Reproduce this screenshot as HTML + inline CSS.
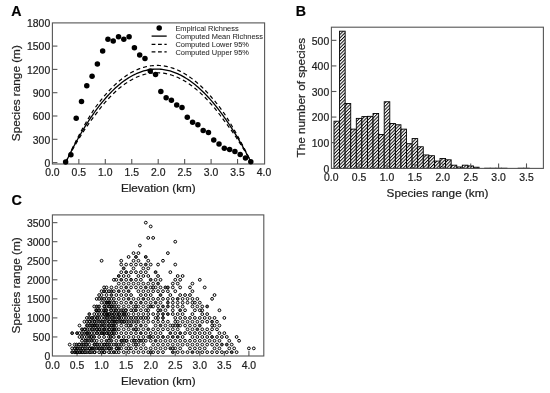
<!DOCTYPE html>
<html><head><meta charset="utf-8"><style>
html,body{margin:0;padding:0;background:#fff;width:550px;height:393px;overflow:hidden}
svg{display:block}
text{font-family:"Liberation Sans", Arial, Helvetica, sans-serif;stroke:#1e1e1e;stroke-width:0.22px}
</style></head><body>
<svg width="550" height="393" viewBox="0 0 550 393">
<rect width="550" height="393" fill="#fff"/>
<text x="11.2" y="15.6" font-size="14.2" font-weight="bold" fill="#000">A</text>
<text x="295.7" y="15.8" font-size="14.2" font-weight="bold" fill="#000">B</text>
<text x="11.6" y="205.4" font-size="14.4" font-weight="bold" fill="#000">C</text>
<rect x="52.4" y="22.9" width="212.20" height="141.10" fill="none" stroke="#555" stroke-width="1.1"/>
<text x="52.40" y="176.1" font-size="10.4" text-anchor="middle" fill="#1e1e1e">0.0</text>
<line x1="78.85" y1="164.0" x2="78.85" y2="159.0" stroke="#555" stroke-width="1.1"/>
<text x="78.85" y="176.1" font-size="10.4" text-anchor="middle" fill="#1e1e1e">0.5</text>
<line x1="105.30" y1="164.0" x2="105.30" y2="159.0" stroke="#555" stroke-width="1.1"/>
<text x="105.30" y="176.1" font-size="10.4" text-anchor="middle" fill="#1e1e1e">1.0</text>
<line x1="131.75" y1="164.0" x2="131.75" y2="159.0" stroke="#555" stroke-width="1.1"/>
<text x="131.75" y="176.1" font-size="10.4" text-anchor="middle" fill="#1e1e1e">1.5</text>
<line x1="158.20" y1="164.0" x2="158.20" y2="159.0" stroke="#555" stroke-width="1.1"/>
<text x="158.20" y="176.1" font-size="10.4" text-anchor="middle" fill="#1e1e1e">2.0</text>
<line x1="184.65" y1="164.0" x2="184.65" y2="159.0" stroke="#555" stroke-width="1.1"/>
<text x="184.65" y="176.1" font-size="10.4" text-anchor="middle" fill="#1e1e1e">2.5</text>
<line x1="211.10" y1="164.0" x2="211.10" y2="159.0" stroke="#555" stroke-width="1.1"/>
<text x="211.10" y="176.1" font-size="10.4" text-anchor="middle" fill="#1e1e1e">3.0</text>
<line x1="237.55" y1="164.0" x2="237.55" y2="159.0" stroke="#555" stroke-width="1.1"/>
<text x="237.55" y="176.1" font-size="10.4" text-anchor="middle" fill="#1e1e1e">3.5</text>
<text x="264.00" y="176.1" font-size="10.4" text-anchor="middle" fill="#1e1e1e">4.0</text>
<line x1="52.4" y1="162.60" x2="57.4" y2="162.60" stroke="#555" stroke-width="1.1"/>
<text x="50.2" y="167.00" font-size="10.4" text-anchor="end" fill="#1e1e1e">0</text>
<line x1="52.4" y1="139.30" x2="57.4" y2="139.30" stroke="#555" stroke-width="1.1"/>
<text x="50.2" y="143.70" font-size="10.4" text-anchor="end" fill="#1e1e1e">300</text>
<line x1="52.4" y1="116.00" x2="57.4" y2="116.00" stroke="#555" stroke-width="1.1"/>
<text x="50.2" y="120.40" font-size="10.4" text-anchor="end" fill="#1e1e1e">600</text>
<line x1="52.4" y1="92.70" x2="57.4" y2="92.70" stroke="#555" stroke-width="1.1"/>
<text x="50.2" y="97.10" font-size="10.4" text-anchor="end" fill="#1e1e1e">900</text>
<line x1="52.4" y1="69.40" x2="57.4" y2="69.40" stroke="#555" stroke-width="1.1"/>
<text x="50.2" y="73.80" font-size="10.4" text-anchor="end" fill="#1e1e1e">1200</text>
<line x1="52.4" y1="46.09" x2="57.4" y2="46.09" stroke="#555" stroke-width="1.1"/>
<text x="50.2" y="50.49" font-size="10.4" text-anchor="end" fill="#1e1e1e">1500</text>
<text x="50.2" y="27.19" font-size="10.4" text-anchor="end" fill="#1e1e1e">1800</text>
<text x="158.3" y="192.3" font-size="11.7" text-anchor="middle" fill="#1e1e1e">Elevation (km)</text>
<text transform="translate(20.4,93.2) rotate(-90)" font-size="11.75" text-anchor="middle" fill="#1e1e1e">Species range (m)</text>
<path d="M65.62,162.60 L66.95,159.87 L68.27,157.17 L69.59,154.52 L70.91,151.91 L72.24,149.34 L73.56,146.82 L74.88,144.33 L76.20,141.89 L77.53,139.48 L78.85,137.12 L80.17,134.80 L81.50,132.53 L82.82,130.29 L84.14,128.09 L85.46,125.94 L86.78,123.82 L88.11,121.75 L89.43,119.72 L90.75,117.73 L92.07,115.78 L93.40,113.87 L94.72,112.00 L96.04,110.17 L97.36,108.39 L98.69,106.64 L100.01,104.93 L101.33,103.27 L102.66,101.64 L103.98,100.06 L105.30,98.51 L106.62,97.01 L107.94,95.55 L109.27,94.12 L110.59,92.74 L111.91,91.39 L113.23,90.09 L114.56,88.83 L115.88,87.60 L117.20,86.42 L118.53,85.27 L119.85,84.17 L121.17,83.10 L122.49,82.08 L123.81,81.09 L125.14,80.14 L126.46,79.23 L127.78,78.36 L129.10,77.54 L130.43,76.75 L131.75,75.99 L133.07,75.28 L134.40,74.61 L135.72,73.98 L137.04,73.38 L138.36,72.82 L139.69,72.31 L141.01,71.83 L142.33,71.39 L143.65,70.99 L144.97,70.62 L146.30,70.30 L147.62,70.01 L148.94,69.77 L150.27,69.56 L151.59,69.39 L152.91,69.25 L154.23,69.16 L155.56,69.10 L156.88,69.09 L158.20,69.11 L159.52,69.16 L160.84,69.26 L162.17,69.39 L163.49,69.56 L164.81,69.77 L166.13,70.02 L167.46,70.30 L168.78,70.62 L170.10,70.98 L171.42,71.38 L172.75,71.81 L174.07,72.29 L175.39,72.79 L176.72,73.34 L178.04,73.92 L179.36,74.54 L180.68,75.20 L182.01,75.89 L183.33,76.62 L184.65,77.39 L185.97,78.20 L187.29,79.04 L188.62,79.91 L189.94,80.83 L191.26,81.78 L192.59,82.77 L193.91,83.79 L195.23,84.85 L196.55,85.95 L197.88,87.08 L199.20,88.25 L200.52,89.46 L201.84,90.70 L203.17,91.97 L204.49,93.29 L205.81,94.64 L207.13,96.02 L208.46,97.44 L209.78,98.90 L211.10,100.39 L212.42,101.92 L213.75,103.48 L215.07,105.08 L216.39,106.72 L217.71,108.39 L219.03,110.09 L220.36,111.84 L221.68,113.61 L223.00,115.42 L224.32,117.27 L225.65,119.15 L226.97,121.07 L228.29,123.02 L229.62,125.01 L230.94,127.03 L232.26,129.08 L233.58,131.17 L234.91,133.30 L236.23,135.46 L237.55,137.65 L238.87,139.88 L240.19,142.15 L241.52,144.44 L242.84,146.78 L244.16,149.14 L245.48,151.54 L246.81,153.98 L248.13,156.45 L249.45,158.95 L250.78,161.49" fill="none" stroke="#000" stroke-width="1.3"/>
<path d="M65.62,162.60 L66.95,159.70 L68.27,156.84 L69.59,154.02 L70.91,151.25 L72.24,148.51 L73.56,145.82 L74.88,143.17 L76.20,140.56 L77.53,137.99 L78.85,135.46 L80.17,132.98 L81.50,130.53 L82.82,128.13 L84.14,125.77 L85.46,123.45 L86.78,121.17 L88.11,118.93 L89.43,116.73 L90.75,114.58 L92.07,112.46 L93.40,110.39 L94.72,108.35 L96.04,106.52 L97.36,104.74 L98.69,102.99 L100.01,101.28 L101.33,99.62 L102.66,97.99 L103.98,96.41 L105.30,94.86 L106.62,93.36 L107.94,91.90 L109.27,90.47 L110.59,89.09 L111.91,87.74 L113.23,86.44 L114.56,85.18 L115.88,83.95 L117.20,82.77 L118.53,81.62 L119.85,80.52 L121.17,79.45 L122.49,78.42 L123.81,77.44 L125.14,76.49 L126.46,75.58 L127.78,74.71 L129.10,73.89 L130.43,73.10 L131.75,72.34 L133.07,71.63 L134.40,70.96 L135.72,70.33 L137.04,69.73 L138.36,69.17 L139.69,68.66 L141.01,68.18 L142.33,67.74 L143.65,67.34 L144.97,66.97 L146.30,66.65 L147.62,66.36 L148.94,66.12 L150.27,65.91 L151.59,65.74 L152.91,65.60 L154.23,65.51 L155.56,65.45 L156.88,65.44 L158.20,65.46 L159.52,65.51 L160.84,65.61 L162.17,65.74 L163.49,65.91 L164.81,66.12 L166.13,66.37 L167.46,66.65 L168.78,66.97 L170.10,67.33 L171.42,67.73 L172.75,68.16 L174.07,68.63 L175.39,69.14 L176.72,69.69 L178.04,70.27 L179.36,70.89 L180.68,71.55 L182.01,72.24 L183.33,72.97 L184.65,73.74 L185.97,74.54 L187.29,75.39 L188.62,76.26 L189.94,77.18 L191.26,78.13 L192.59,79.12 L193.91,80.14 L195.23,81.20 L196.55,82.30 L197.88,83.43 L199.20,84.60 L200.52,85.80 L201.84,87.05 L203.17,88.32 L204.49,89.64 L205.81,90.99 L207.13,92.37 L208.46,93.79 L209.78,95.25 L211.10,96.74 L212.42,98.27 L213.75,99.83 L215.07,101.43 L216.39,103.07 L217.71,104.74 L219.03,106.44 L220.36,108.18 L221.68,109.96 L223.00,111.77 L224.32,113.62 L225.65,115.68 L226.97,117.78 L228.29,119.92 L229.62,122.09 L230.94,124.29 L232.26,126.53 L233.58,128.80 L234.91,131.11 L236.23,133.45 L237.55,135.83 L238.87,138.24 L240.19,140.69 L241.52,143.17 L242.84,145.68 L244.16,148.23 L245.48,150.81 L246.81,153.43 L248.13,156.08 L249.45,158.77 L250.78,161.49" fill="none" stroke="#000" stroke-width="1.2" stroke-dasharray="4,3"/>
<path d="M65.62,162.60 L66.95,160.03 L68.27,157.51 L69.59,155.02 L70.91,152.58 L72.24,150.17 L73.56,147.81 L74.88,145.49 L76.20,143.21 L77.53,140.98 L78.85,138.78 L80.17,136.63 L81.50,134.52 L82.82,132.45 L84.14,130.42 L85.46,128.43 L86.78,126.48 L88.11,124.57 L89.43,122.71 L90.75,120.88 L92.07,119.10 L93.40,117.35 L94.72,115.65 L96.04,113.82 L97.36,112.04 L98.69,110.29 L100.01,108.59 L101.33,106.92 L102.66,105.29 L103.98,103.71 L105.30,102.17 L106.62,100.66 L107.94,99.20 L109.27,97.77 L110.59,96.39 L111.91,95.04 L113.23,93.74 L114.56,92.48 L115.88,91.25 L117.20,90.07 L118.53,88.92 L119.85,87.82 L121.17,86.75 L122.49,85.73 L123.81,84.74 L125.14,83.79 L126.46,82.88 L127.78,82.02 L129.10,81.19 L130.43,80.40 L131.75,79.65 L133.07,78.93 L134.40,78.26 L135.72,77.63 L137.04,77.03 L138.36,76.48 L139.69,75.96 L141.01,75.48 L142.33,75.04 L143.65,74.64 L144.97,74.28 L146.30,73.95 L147.62,73.67 L148.94,73.42 L150.27,73.21 L151.59,73.04 L152.91,72.91 L154.23,72.81 L155.56,72.75 L156.88,72.74 L158.20,72.76 L159.52,72.81 L160.84,72.91 L162.17,73.04 L163.49,73.21 L164.81,73.42 L166.13,73.67 L167.46,73.95 L168.78,74.27 L170.10,74.63 L171.42,75.03 L172.75,75.46 L174.07,75.94 L175.39,76.44 L176.72,76.99 L178.04,77.57 L179.36,78.19 L180.68,78.85 L182.01,79.54 L183.33,80.27 L184.65,81.04 L185.97,81.85 L187.29,82.69 L188.62,83.56 L189.94,84.48 L191.26,85.43 L192.59,86.42 L193.91,87.44 L195.23,88.50 L196.55,89.60 L197.88,90.73 L199.20,91.90 L200.52,93.11 L201.84,94.35 L203.17,95.62 L204.49,96.94 L205.81,98.29 L207.13,99.67 L208.46,101.09 L209.78,102.55 L211.10,104.04 L212.42,105.57 L213.75,107.14 L215.07,108.73 L216.39,110.37 L217.71,112.04 L219.03,113.75 L220.36,115.49 L221.68,117.26 L223.00,119.07 L224.32,120.92 L225.65,122.62 L226.97,124.35 L228.29,126.12 L229.62,127.93 L230.94,129.76 L232.26,131.64 L233.58,133.55 L234.91,135.49 L236.23,137.47 L237.55,139.48 L238.87,141.53 L240.19,143.61 L241.52,145.72 L242.84,147.87 L244.16,150.06 L245.48,152.27 L246.81,154.53 L248.13,156.81 L249.45,159.13 L250.78,161.49" fill="none" stroke="#000" stroke-width="1.2" stroke-dasharray="4,3"/>
<circle cx="65.62" cy="161.90" r="2.75" fill="#000"/>
<circle cx="70.91" cy="154.70" r="2.75" fill="#000"/>
<circle cx="76.20" cy="118.30" r="2.75" fill="#000"/>
<circle cx="81.50" cy="101.50" r="2.75" fill="#000"/>
<circle cx="86.78" cy="85.70" r="2.75" fill="#000"/>
<circle cx="92.07" cy="76.30" r="2.75" fill="#000"/>
<circle cx="97.36" cy="64.10" r="2.75" fill="#000"/>
<circle cx="102.66" cy="50.90" r="2.75" fill="#000"/>
<circle cx="107.94" cy="39.20" r="2.75" fill="#000"/>
<circle cx="113.23" cy="40.90" r="2.75" fill="#000"/>
<circle cx="118.53" cy="36.80" r="2.75" fill="#000"/>
<circle cx="123.81" cy="39.20" r="2.75" fill="#000"/>
<circle cx="129.10" cy="36.80" r="2.75" fill="#000"/>
<circle cx="134.40" cy="47.80" r="2.75" fill="#000"/>
<circle cx="139.69" cy="54.90" r="2.75" fill="#000"/>
<circle cx="144.97" cy="58.40" r="2.75" fill="#000"/>
<circle cx="150.27" cy="70.90" r="2.75" fill="#000"/>
<circle cx="155.56" cy="74.40" r="2.75" fill="#000"/>
<circle cx="160.84" cy="91.50" r="2.75" fill="#000"/>
<circle cx="166.13" cy="97.80" r="2.75" fill="#000"/>
<circle cx="171.42" cy="100.20" r="2.75" fill="#000"/>
<circle cx="176.72" cy="105.10" r="2.75" fill="#000"/>
<circle cx="182.01" cy="107.60" r="2.75" fill="#000"/>
<circle cx="187.29" cy="117.30" r="2.75" fill="#000"/>
<circle cx="192.59" cy="122.30" r="2.75" fill="#000"/>
<circle cx="197.88" cy="124.80" r="2.75" fill="#000"/>
<circle cx="203.17" cy="130.50" r="2.75" fill="#000"/>
<circle cx="208.46" cy="132.60" r="2.75" fill="#000"/>
<circle cx="213.75" cy="140.00" r="2.75" fill="#000"/>
<circle cx="219.03" cy="144.00" r="2.75" fill="#000"/>
<circle cx="224.32" cy="148.30" r="2.75" fill="#000"/>
<circle cx="229.62" cy="149.60" r="2.75" fill="#000"/>
<circle cx="234.91" cy="151.40" r="2.75" fill="#000"/>
<circle cx="240.19" cy="154.60" r="2.75" fill="#000"/>
<circle cx="245.48" cy="157.90" r="2.75" fill="#000"/>
<circle cx="250.78" cy="161.70" r="2.75" fill="#000"/>
<circle cx="159.2" cy="28.0" r="2.75" fill="#000"/>
<line x1="151.6" y1="36.1" x2="166.7" y2="36.1" stroke="#000" stroke-width="1.3"/>
<line x1="151.6" y1="44.3" x2="166.7" y2="44.3" stroke="#000" stroke-width="1.2" stroke-dasharray="3.8,2.6"/>
<line x1="151.6" y1="51.8" x2="166.7" y2="51.8" stroke="#000" stroke-width="1.2" stroke-dasharray="3.8,2.6"/>
<text x="175.4" y="30.6" font-size="7.45" fill="#2a2a2a" style="stroke-width:0.05px">Empirical Richness</text>
<text x="175.4" y="38.7" font-size="7.45" fill="#2a2a2a" style="stroke-width:0.05px">Computed Mean Richness</text>
<text x="175.4" y="47.1" font-size="7.45" fill="#2a2a2a" style="stroke-width:0.05px">Computed Lower 95%</text>
<text x="175.4" y="54.5" font-size="7.45" fill="#2a2a2a" style="stroke-width:0.05px">Computed Upper 95%</text>
<defs><pattern id="h" patternUnits="userSpaceOnUse" width="2.36" height="2.36" patternTransform="rotate(45)"><rect width="2.36" height="2.36" fill="#fff"/><rect width="0.95" height="2.36" fill="#000"/></pattern></defs>
<rect x="333.99" y="121.20" width="5.58" height="47.20" fill="url(#h)" stroke="#000" stroke-width="0.9"/>
<rect x="339.57" y="31.19" width="5.58" height="137.21" fill="url(#h)" stroke="#000" stroke-width="0.9"/>
<rect x="345.15" y="103.55" width="5.58" height="64.85" fill="url(#h)" stroke="#000" stroke-width="0.9"/>
<rect x="350.73" y="129.12" width="5.58" height="39.28" fill="url(#h)" stroke="#000" stroke-width="0.9"/>
<rect x="356.31" y="118.38" width="5.58" height="50.02" fill="url(#h)" stroke="#000" stroke-width="0.9"/>
<rect x="361.89" y="116.59" width="5.58" height="51.81" fill="url(#h)" stroke="#000" stroke-width="0.9"/>
<rect x="367.47" y="116.34" width="5.58" height="52.06" fill="url(#h)" stroke="#000" stroke-width="0.9"/>
<rect x="373.05" y="113.52" width="5.58" height="54.88" fill="url(#h)" stroke="#000" stroke-width="0.9"/>
<rect x="378.63" y="134.49" width="5.58" height="33.91" fill="url(#h)" stroke="#000" stroke-width="0.9"/>
<rect x="384.21" y="101.76" width="5.58" height="66.64" fill="url(#h)" stroke="#000" stroke-width="0.9"/>
<rect x="389.79" y="123.50" width="5.58" height="44.90" fill="url(#h)" stroke="#000" stroke-width="0.9"/>
<rect x="395.37" y="124.78" width="5.58" height="43.62" fill="url(#h)" stroke="#000" stroke-width="0.9"/>
<rect x="400.95" y="129.12" width="5.58" height="39.28" fill="url(#h)" stroke="#000" stroke-width="0.9"/>
<rect x="406.53" y="143.70" width="5.58" height="24.70" fill="url(#h)" stroke="#000" stroke-width="0.9"/>
<rect x="412.11" y="138.58" width="5.58" height="29.82" fill="url(#h)" stroke="#000" stroke-width="0.9"/>
<rect x="417.69" y="146.77" width="5.58" height="21.63" fill="url(#h)" stroke="#000" stroke-width="0.9"/>
<rect x="423.27" y="154.95" width="5.58" height="13.45" fill="url(#h)" stroke="#000" stroke-width="0.9"/>
<rect x="428.85" y="155.72" width="5.58" height="12.69" fill="url(#h)" stroke="#000" stroke-width="0.9"/>
<rect x="434.43" y="161.08" width="5.58" height="7.32" fill="url(#h)" stroke="#000" stroke-width="0.9"/>
<rect x="440.01" y="158.53" width="5.58" height="9.87" fill="url(#h)" stroke="#000" stroke-width="0.9"/>
<rect x="445.59" y="159.81" width="5.58" height="8.59" fill="url(#h)" stroke="#000" stroke-width="0.9"/>
<rect x="451.17" y="165.18" width="5.58" height="3.22" fill="url(#h)" stroke="#000" stroke-width="0.9"/>
<rect x="456.75" y="166.97" width="5.58" height="1.43" fill="url(#h)" stroke="#000" stroke-width="0.9"/>
<rect x="462.33" y="165.18" width="5.58" height="3.22" fill="url(#h)" stroke="#000" stroke-width="0.9"/>
<rect x="467.91" y="165.94" width="5.58" height="2.46" fill="url(#h)" stroke="#000" stroke-width="0.9"/>
<rect x="473.49" y="167.22" width="5.58" height="1.18" fill="url(#h)" stroke="#000" stroke-width="0.9"/>
<rect x="484.65" y="168.24" width="5.58" height="0.16" fill="url(#h)" stroke="#000" stroke-width="0.9"/>
<rect x="490.23" y="168.24" width="5.58" height="0.16" fill="url(#h)" stroke="#000" stroke-width="0.9"/>
<rect x="495.81" y="168.24" width="5.58" height="0.16" fill="url(#h)" stroke="#000" stroke-width="0.9"/>
<rect x="501.39" y="168.24" width="5.58" height="0.16" fill="url(#h)" stroke="#000" stroke-width="0.9"/>
<rect x="518.13" y="168.24" width="5.58" height="0.16" fill="url(#h)" stroke="#000" stroke-width="0.9"/>
<rect x="523.71" y="168.24" width="5.58" height="0.16" fill="url(#h)" stroke="#000" stroke-width="0.9"/>
<rect x="331.4" y="27.2" width="212.00" height="141.20" fill="none" stroke="#555" stroke-width="1.1"/>
<text x="331.20" y="181.0" font-size="10.4" text-anchor="middle" fill="#1e1e1e">0.0</text>
<line x1="359.10" y1="168.4" x2="359.10" y2="163.4" stroke="#555" stroke-width="1.1"/>
<text x="359.10" y="181.0" font-size="10.4" text-anchor="middle" fill="#1e1e1e">0.5</text>
<line x1="387.00" y1="168.4" x2="387.00" y2="163.4" stroke="#555" stroke-width="1.1"/>
<text x="387.00" y="181.0" font-size="10.4" text-anchor="middle" fill="#1e1e1e">1.0</text>
<line x1="414.90" y1="168.4" x2="414.90" y2="163.4" stroke="#555" stroke-width="1.1"/>
<text x="414.90" y="181.0" font-size="10.4" text-anchor="middle" fill="#1e1e1e">1.5</text>
<line x1="442.80" y1="168.4" x2="442.80" y2="163.4" stroke="#555" stroke-width="1.1"/>
<text x="442.80" y="181.0" font-size="10.4" text-anchor="middle" fill="#1e1e1e">2.0</text>
<line x1="470.70" y1="168.4" x2="470.70" y2="163.4" stroke="#555" stroke-width="1.1"/>
<text x="470.70" y="181.0" font-size="10.4" text-anchor="middle" fill="#1e1e1e">2.5</text>
<line x1="498.60" y1="168.4" x2="498.60" y2="163.4" stroke="#555" stroke-width="1.1"/>
<text x="498.60" y="181.0" font-size="10.4" text-anchor="middle" fill="#1e1e1e">3.0</text>
<line x1="526.50" y1="168.4" x2="526.50" y2="163.4" stroke="#555" stroke-width="1.1"/>
<text x="526.50" y="181.0" font-size="10.4" text-anchor="middle" fill="#1e1e1e">3.5</text>
<text x="329.2" y="172.50" font-size="10.4" text-anchor="end" fill="#1e1e1e">0</text>
<line x1="331.4" y1="142.63" x2="336.4" y2="142.63" stroke="#555" stroke-width="1.1"/>
<text x="329.2" y="146.93" font-size="10.4" text-anchor="end" fill="#1e1e1e">100</text>
<line x1="331.4" y1="117.06" x2="336.4" y2="117.06" stroke="#555" stroke-width="1.1"/>
<text x="329.2" y="121.36" font-size="10.4" text-anchor="end" fill="#1e1e1e">200</text>
<line x1="331.4" y1="91.49" x2="336.4" y2="91.49" stroke="#555" stroke-width="1.1"/>
<text x="329.2" y="95.79" font-size="10.4" text-anchor="end" fill="#1e1e1e">300</text>
<line x1="331.4" y1="65.92" x2="336.4" y2="65.92" stroke="#555" stroke-width="1.1"/>
<text x="329.2" y="70.22" font-size="10.4" text-anchor="end" fill="#1e1e1e">400</text>
<line x1="331.4" y1="40.35" x2="336.4" y2="40.35" stroke="#555" stroke-width="1.1"/>
<text x="329.2" y="44.65" font-size="10.4" text-anchor="end" fill="#1e1e1e">500</text>
<text x="437.5" y="196.6" font-size="11.75" text-anchor="middle" fill="#1e1e1e">Species range (km)</text>
<text transform="translate(305.1,97.7) rotate(-90)" font-size="11.75" text-anchor="middle" fill="#1e1e1e">The number of species</text>
<rect x="52.4" y="214.9" width="211.40" height="141.10" fill="none" stroke="#555" stroke-width="1.1"/>
<text x="52.50" y="368.6" font-size="10.4" text-anchor="middle" fill="#1e1e1e">0.0</text>
<line x1="77.05" y1="356.0" x2="77.05" y2="351.0" stroke="#555" stroke-width="1.1"/>
<text x="77.05" y="368.6" font-size="10.4" text-anchor="middle" fill="#1e1e1e">0.5</text>
<line x1="101.60" y1="356.0" x2="101.60" y2="351.0" stroke="#555" stroke-width="1.1"/>
<text x="101.60" y="368.6" font-size="10.4" text-anchor="middle" fill="#1e1e1e">1.0</text>
<line x1="126.15" y1="356.0" x2="126.15" y2="351.0" stroke="#555" stroke-width="1.1"/>
<text x="126.15" y="368.6" font-size="10.4" text-anchor="middle" fill="#1e1e1e">1.5</text>
<line x1="150.70" y1="356.0" x2="150.70" y2="351.0" stroke="#555" stroke-width="1.1"/>
<text x="150.70" y="368.6" font-size="10.4" text-anchor="middle" fill="#1e1e1e">2.0</text>
<line x1="175.25" y1="356.0" x2="175.25" y2="351.0" stroke="#555" stroke-width="1.1"/>
<text x="175.25" y="368.6" font-size="10.4" text-anchor="middle" fill="#1e1e1e">2.5</text>
<line x1="199.80" y1="356.0" x2="199.80" y2="351.0" stroke="#555" stroke-width="1.1"/>
<text x="199.80" y="368.6" font-size="10.4" text-anchor="middle" fill="#1e1e1e">3.0</text>
<line x1="224.35" y1="356.0" x2="224.35" y2="351.0" stroke="#555" stroke-width="1.1"/>
<text x="224.35" y="368.6" font-size="10.4" text-anchor="middle" fill="#1e1e1e">3.5</text>
<line x1="248.90" y1="356.0" x2="248.90" y2="351.0" stroke="#555" stroke-width="1.1"/>
<text x="248.90" y="368.6" font-size="10.4" text-anchor="middle" fill="#1e1e1e">4.0</text>
<text x="50.2" y="360.40" font-size="10.4" text-anchor="end" fill="#1e1e1e">0</text>
<line x1="52.4" y1="336.95" x2="57.4" y2="336.95" stroke="#555" stroke-width="1.1"/>
<text x="50.2" y="341.35" font-size="10.4" text-anchor="end" fill="#1e1e1e">500</text>
<line x1="52.4" y1="317.90" x2="57.4" y2="317.90" stroke="#555" stroke-width="1.1"/>
<text x="50.2" y="322.30" font-size="10.4" text-anchor="end" fill="#1e1e1e">1000</text>
<line x1="52.4" y1="298.85" x2="57.4" y2="298.85" stroke="#555" stroke-width="1.1"/>
<text x="50.2" y="303.25" font-size="10.4" text-anchor="end" fill="#1e1e1e">1500</text>
<line x1="52.4" y1="279.80" x2="57.4" y2="279.80" stroke="#555" stroke-width="1.1"/>
<text x="50.2" y="284.20" font-size="10.4" text-anchor="end" fill="#1e1e1e">2000</text>
<line x1="52.4" y1="260.75" x2="57.4" y2="260.75" stroke="#555" stroke-width="1.1"/>
<text x="50.2" y="265.15" font-size="10.4" text-anchor="end" fill="#1e1e1e">2500</text>
<line x1="52.4" y1="241.70" x2="57.4" y2="241.70" stroke="#555" stroke-width="1.1"/>
<text x="50.2" y="246.10" font-size="10.4" text-anchor="end" fill="#1e1e1e">3000</text>
<line x1="52.4" y1="222.65" x2="57.4" y2="222.65" stroke="#555" stroke-width="1.1"/>
<text x="50.2" y="227.05" font-size="10.4" text-anchor="end" fill="#1e1e1e">3500</text>
<text x="158.3" y="384.5" font-size="11.7" text-anchor="middle" fill="#1e1e1e">Elevation (km)</text>
<text transform="translate(20.4,285.4) rotate(-90)" font-size="11.75" text-anchor="middle" fill="#1e1e1e">Species range (m)</text>
<circle cx="145.79" cy="222.65" r="1.4" fill="none" stroke="#000" stroke-width="1.0"/>
<circle cx="150.70" cy="226.46" r="1.4" fill="none" stroke="#000" stroke-width="1.0"/>
<circle cx="148.25" cy="237.89" r="1.4" fill="none" stroke="#000" stroke-width="1.0"/>
<circle cx="153.16" cy="237.89" r="1.4" fill="none" stroke="#000" stroke-width="1.0"/>
<circle cx="175.25" cy="241.70" r="1.4" fill="none" stroke="#000" stroke-width="1.0"/>
<circle cx="139.90" cy="245.51" r="1.4" fill="none" stroke="#000" stroke-width="1.0"/>
<circle cx="133.51" cy="253.13" r="1.4" fill="none" stroke="#000" stroke-width="1.0"/>
<circle cx="138.43" cy="253.13" r="1.4" fill="none" stroke="#000" stroke-width="1.0"/>
<circle cx="167.88" cy="253.13" r="1.4" fill="none" stroke="#000" stroke-width="1.0"/>
<circle cx="128.61" cy="256.94" r="1.4" fill="none" stroke="#000" stroke-width="1.0"/>
<circle cx="135.97" cy="256.94" r="1.4" fill="#6a6a6a" stroke="#000" stroke-width="1.0"/>
<circle cx="145.79" cy="256.94" r="1.4" fill="#6a6a6a" stroke="#000" stroke-width="1.0"/>
<circle cx="101.60" cy="260.75" r="1.4" fill="none" stroke="#000" stroke-width="1.0"/>
<circle cx="121.24" cy="260.75" r="1.4" fill="none" stroke="#000" stroke-width="1.0"/>
<circle cx="133.51" cy="260.75" r="1.4" fill="none" stroke="#000" stroke-width="1.0"/>
<circle cx="138.43" cy="260.75" r="1.4" fill="none" stroke="#000" stroke-width="1.0"/>
<circle cx="148.25" cy="260.75" r="1.4" fill="none" stroke="#000" stroke-width="1.0"/>
<circle cx="162.98" cy="260.75" r="1.4" fill="none" stroke="#000" stroke-width="1.0"/>
<circle cx="121.24" cy="264.56" r="1.4" fill="none" stroke="#000" stroke-width="1.0"/>
<circle cx="126.15" cy="264.56" r="1.4" fill="none" stroke="#000" stroke-width="1.0"/>
<circle cx="131.06" cy="264.56" r="1.4" fill="none" stroke="#000" stroke-width="1.0"/>
<circle cx="135.97" cy="264.56" r="1.4" fill="none" stroke="#000" stroke-width="1.0"/>
<circle cx="140.88" cy="264.56" r="1.4" fill="none" stroke="#000" stroke-width="1.0"/>
<circle cx="145.79" cy="264.56" r="1.4" fill="#6a6a6a" stroke="#000" stroke-width="1.0"/>
<circle cx="150.70" cy="264.56" r="1.4" fill="none" stroke="#000" stroke-width="1.0"/>
<circle cx="158.06" cy="264.56" r="1.4" fill="none" stroke="#000" stroke-width="1.0"/>
<circle cx="175.25" cy="264.56" r="1.4" fill="none" stroke="#000" stroke-width="1.0"/>
<circle cx="123.69" cy="268.37" r="1.4" fill="#6a6a6a" stroke="#000" stroke-width="1.0"/>
<circle cx="133.51" cy="268.37" r="1.4" fill="none" stroke="#000" stroke-width="1.0"/>
<circle cx="143.34" cy="268.37" r="1.4" fill="none" stroke="#000" stroke-width="1.0"/>
<circle cx="148.25" cy="268.37" r="1.4" fill="none" stroke="#000" stroke-width="1.0"/>
<circle cx="121.24" cy="272.18" r="1.4" fill="none" stroke="#000" stroke-width="1.0"/>
<circle cx="126.15" cy="272.18" r="1.4" fill="#6a6a6a" stroke="#000" stroke-width="1.0"/>
<circle cx="131.06" cy="272.18" r="1.4" fill="none" stroke="#000" stroke-width="1.0"/>
<circle cx="135.97" cy="272.18" r="1.4" fill="none" stroke="#000" stroke-width="1.0"/>
<circle cx="140.88" cy="272.18" r="1.4" fill="none" stroke="#000" stroke-width="1.0"/>
<circle cx="145.79" cy="272.18" r="1.4" fill="none" stroke="#000" stroke-width="1.0"/>
<circle cx="155.61" cy="272.18" r="1.4" fill="#6a6a6a" stroke="#000" stroke-width="1.0"/>
<circle cx="170.34" cy="272.18" r="1.4" fill="none" stroke="#000" stroke-width="1.0"/>
<circle cx="118.79" cy="275.99" r="1.4" fill="#6a6a6a" stroke="#000" stroke-width="1.0"/>
<circle cx="123.69" cy="275.99" r="1.4" fill="none" stroke="#000" stroke-width="1.0"/>
<circle cx="128.61" cy="275.99" r="1.4" fill="none" stroke="#000" stroke-width="1.0"/>
<circle cx="138.43" cy="275.99" r="1.4" fill="none" stroke="#000" stroke-width="1.0"/>
<circle cx="143.34" cy="275.99" r="1.4" fill="none" stroke="#000" stroke-width="1.0"/>
<circle cx="148.25" cy="275.99" r="1.4" fill="none" stroke="#000" stroke-width="1.0"/>
<circle cx="158.06" cy="275.99" r="1.4" fill="none" stroke="#000" stroke-width="1.0"/>
<circle cx="177.70" cy="275.99" r="1.4" fill="none" stroke="#000" stroke-width="1.0"/>
<circle cx="182.62" cy="275.99" r="1.4" fill="none" stroke="#000" stroke-width="1.0"/>
<circle cx="113.88" cy="279.80" r="1.4" fill="none" stroke="#000" stroke-width="1.0"/>
<circle cx="116.33" cy="279.80" r="1.4" fill="none" stroke="#000" stroke-width="1.0"/>
<circle cx="121.24" cy="279.80" r="1.4" fill="#6a6a6a" stroke="#000" stroke-width="1.0"/>
<circle cx="126.15" cy="279.80" r="1.4" fill="none" stroke="#000" stroke-width="1.0"/>
<circle cx="131.06" cy="279.80" r="1.4" fill="#6a6a6a" stroke="#000" stroke-width="1.0"/>
<circle cx="135.97" cy="279.80" r="1.4" fill="none" stroke="#000" stroke-width="1.0"/>
<circle cx="140.88" cy="279.80" r="1.4" fill="none" stroke="#000" stroke-width="1.0"/>
<circle cx="150.70" cy="279.80" r="1.4" fill="#6a6a6a" stroke="#000" stroke-width="1.0"/>
<circle cx="155.61" cy="279.80" r="1.4" fill="none" stroke="#000" stroke-width="1.0"/>
<circle cx="160.52" cy="279.80" r="1.4" fill="none" stroke="#000" stroke-width="1.0"/>
<circle cx="175.25" cy="279.80" r="1.4" fill="none" stroke="#000" stroke-width="1.0"/>
<circle cx="180.16" cy="279.80" r="1.4" fill="none" stroke="#000" stroke-width="1.0"/>
<circle cx="199.80" cy="279.80" r="1.4" fill="none" stroke="#000" stroke-width="1.0"/>
<circle cx="118.79" cy="283.61" r="1.4" fill="none" stroke="#000" stroke-width="1.0"/>
<circle cx="123.69" cy="283.61" r="1.4" fill="none" stroke="#000" stroke-width="1.0"/>
<circle cx="128.61" cy="283.61" r="1.4" fill="none" stroke="#000" stroke-width="1.0"/>
<circle cx="133.51" cy="283.61" r="1.4" fill="none" stroke="#000" stroke-width="1.0"/>
<circle cx="138.43" cy="283.61" r="1.4" fill="none" stroke="#000" stroke-width="1.0"/>
<circle cx="143.34" cy="283.61" r="1.4" fill="none" stroke="#000" stroke-width="1.0"/>
<circle cx="148.25" cy="283.61" r="1.4" fill="none" stroke="#000" stroke-width="1.0"/>
<circle cx="153.16" cy="283.61" r="1.4" fill="none" stroke="#000" stroke-width="1.0"/>
<circle cx="158.06" cy="283.61" r="1.4" fill="#6a6a6a" stroke="#000" stroke-width="1.0"/>
<circle cx="172.80" cy="283.61" r="1.4" fill="none" stroke="#000" stroke-width="1.0"/>
<circle cx="177.70" cy="283.61" r="1.4" fill="none" stroke="#000" stroke-width="1.0"/>
<circle cx="192.44" cy="283.61" r="1.4" fill="none" stroke="#000" stroke-width="1.0"/>
<circle cx="155.61" cy="287.42" r="1.4" fill="none" stroke="#000" stroke-width="1.0"/>
<circle cx="160.52" cy="287.42" r="1.4" fill="none" stroke="#000" stroke-width="1.0"/>
<circle cx="165.43" cy="287.42" r="1.4" fill="#6a6a6a" stroke="#000" stroke-width="1.0"/>
<circle cx="167.88" cy="287.42" r="1.4" fill="#6a6a6a" stroke="#000" stroke-width="1.0"/>
<circle cx="172.80" cy="287.42" r="1.4" fill="none" stroke="#000" stroke-width="1.0"/>
<circle cx="180.16" cy="287.42" r="1.4" fill="none" stroke="#000" stroke-width="1.0"/>
<circle cx="189.98" cy="287.42" r="1.4" fill="none" stroke="#000" stroke-width="1.0"/>
<circle cx="204.71" cy="287.42" r="1.4" fill="none" stroke="#000" stroke-width="1.0"/>
<circle cx="158.06" cy="291.23" r="1.4" fill="none" stroke="#000" stroke-width="1.0"/>
<circle cx="162.98" cy="291.23" r="1.4" fill="none" stroke="#000" stroke-width="1.0"/>
<circle cx="167.88" cy="291.23" r="1.4" fill="none" stroke="#000" stroke-width="1.0"/>
<circle cx="175.25" cy="291.23" r="1.4" fill="none" stroke="#000" stroke-width="1.0"/>
<circle cx="192.44" cy="291.23" r="1.4" fill="none" stroke="#000" stroke-width="1.0"/>
<circle cx="160.52" cy="295.04" r="1.4" fill="#6a6a6a" stroke="#000" stroke-width="1.0"/>
<circle cx="170.34" cy="295.04" r="1.4" fill="none" stroke="#000" stroke-width="1.0"/>
<circle cx="180.16" cy="295.04" r="1.4" fill="none" stroke="#000" stroke-width="1.0"/>
<circle cx="185.07" cy="295.04" r="1.4" fill="none" stroke="#000" stroke-width="1.0"/>
<circle cx="189.98" cy="295.04" r="1.4" fill="none" stroke="#000" stroke-width="1.0"/>
<circle cx="214.53" cy="295.04" r="1.4" fill="none" stroke="#000" stroke-width="1.0"/>
<circle cx="158.06" cy="298.85" r="1.4" fill="none" stroke="#000" stroke-width="1.0"/>
<circle cx="162.98" cy="298.85" r="1.4" fill="none" stroke="#000" stroke-width="1.0"/>
<circle cx="167.88" cy="298.85" r="1.4" fill="none" stroke="#000" stroke-width="1.0"/>
<circle cx="172.80" cy="298.85" r="1.4" fill="none" stroke="#000" stroke-width="1.0"/>
<circle cx="177.70" cy="298.85" r="1.4" fill="#6a6a6a" stroke="#000" stroke-width="1.0"/>
<circle cx="182.62" cy="298.85" r="1.4" fill="none" stroke="#000" stroke-width="1.0"/>
<circle cx="187.53" cy="298.85" r="1.4" fill="none" stroke="#000" stroke-width="1.0"/>
<circle cx="192.44" cy="298.85" r="1.4" fill="none" stroke="#000" stroke-width="1.0"/>
<circle cx="197.34" cy="298.85" r="1.4" fill="none" stroke="#000" stroke-width="1.0"/>
<circle cx="212.08" cy="298.85" r="1.4" fill="none" stroke="#000" stroke-width="1.0"/>
<circle cx="155.61" cy="302.66" r="1.4" fill="#6a6a6a" stroke="#000" stroke-width="1.0"/>
<circle cx="160.52" cy="302.66" r="1.4" fill="none" stroke="#000" stroke-width="1.0"/>
<circle cx="167.88" cy="302.66" r="1.4" fill="#6a6a6a" stroke="#000" stroke-width="1.0"/>
<circle cx="172.80" cy="302.66" r="1.4" fill="none" stroke="#000" stroke-width="1.0"/>
<circle cx="177.70" cy="302.66" r="1.4" fill="none" stroke="#000" stroke-width="1.0"/>
<circle cx="182.62" cy="302.66" r="1.4" fill="none" stroke="#000" stroke-width="1.0"/>
<circle cx="187.53" cy="302.66" r="1.4" fill="none" stroke="#000" stroke-width="1.0"/>
<circle cx="192.44" cy="302.66" r="1.4" fill="none" stroke="#000" stroke-width="1.0"/>
<circle cx="194.89" cy="302.66" r="1.4" fill="none" stroke="#000" stroke-width="1.0"/>
<circle cx="199.80" cy="302.66" r="1.4" fill="none" stroke="#000" stroke-width="1.0"/>
<circle cx="158.06" cy="306.47" r="1.4" fill="none" stroke="#000" stroke-width="1.0"/>
<circle cx="162.98" cy="306.47" r="1.4" fill="#6a6a6a" stroke="#000" stroke-width="1.0"/>
<circle cx="167.88" cy="306.47" r="1.4" fill="#6a6a6a" stroke="#000" stroke-width="1.0"/>
<circle cx="172.80" cy="306.47" r="1.4" fill="none" stroke="#000" stroke-width="1.0"/>
<circle cx="177.70" cy="306.47" r="1.4" fill="none" stroke="#000" stroke-width="1.0"/>
<circle cx="182.62" cy="306.47" r="1.4" fill="none" stroke="#000" stroke-width="1.0"/>
<circle cx="192.44" cy="306.47" r="1.4" fill="none" stroke="#000" stroke-width="1.0"/>
<circle cx="197.34" cy="306.47" r="1.4" fill="none" stroke="#000" stroke-width="1.0"/>
<circle cx="202.25" cy="306.47" r="1.4" fill="none" stroke="#000" stroke-width="1.0"/>
<circle cx="207.16" cy="306.47" r="1.4" fill="#6a6a6a" stroke="#000" stroke-width="1.0"/>
<circle cx="158.06" cy="310.28" r="1.4" fill="none" stroke="#000" stroke-width="1.0"/>
<circle cx="160.52" cy="310.28" r="1.4" fill="#6a6a6a" stroke="#000" stroke-width="1.0"/>
<circle cx="165.43" cy="310.28" r="1.4" fill="none" stroke="#000" stroke-width="1.0"/>
<circle cx="172.80" cy="310.28" r="1.4" fill="none" stroke="#000" stroke-width="1.0"/>
<circle cx="180.16" cy="310.28" r="1.4" fill="#6a6a6a" stroke="#000" stroke-width="1.0"/>
<circle cx="185.07" cy="310.28" r="1.4" fill="none" stroke="#000" stroke-width="1.0"/>
<circle cx="194.89" cy="310.28" r="1.4" fill="none" stroke="#000" stroke-width="1.0"/>
<circle cx="199.80" cy="310.28" r="1.4" fill="none" stroke="#000" stroke-width="1.0"/>
<circle cx="202.25" cy="310.28" r="1.4" fill="none" stroke="#000" stroke-width="1.0"/>
<circle cx="219.44" cy="310.28" r="1.4" fill="none" stroke="#000" stroke-width="1.0"/>
<circle cx="158.06" cy="314.09" r="1.4" fill="none" stroke="#000" stroke-width="1.0"/>
<circle cx="162.98" cy="314.09" r="1.4" fill="#6a6a6a" stroke="#000" stroke-width="1.0"/>
<circle cx="167.88" cy="314.09" r="1.4" fill="#6a6a6a" stroke="#000" stroke-width="1.0"/>
<circle cx="172.80" cy="314.09" r="1.4" fill="none" stroke="#000" stroke-width="1.0"/>
<circle cx="177.70" cy="314.09" r="1.4" fill="none" stroke="#000" stroke-width="1.0"/>
<circle cx="182.62" cy="314.09" r="1.4" fill="none" stroke="#000" stroke-width="1.0"/>
<circle cx="192.44" cy="314.09" r="1.4" fill="none" stroke="#000" stroke-width="1.0"/>
<circle cx="202.25" cy="314.09" r="1.4" fill="none" stroke="#000" stroke-width="1.0"/>
<circle cx="207.16" cy="314.09" r="1.4" fill="none" stroke="#000" stroke-width="1.0"/>
<circle cx="155.61" cy="317.90" r="1.4" fill="none" stroke="#000" stroke-width="1.0"/>
<circle cx="158.06" cy="317.90" r="1.4" fill="none" stroke="#000" stroke-width="1.0"/>
<circle cx="162.98" cy="317.90" r="1.4" fill="#6a6a6a" stroke="#000" stroke-width="1.0"/>
<circle cx="175.25" cy="317.90" r="1.4" fill="none" stroke="#000" stroke-width="1.0"/>
<circle cx="180.16" cy="317.90" r="1.4" fill="none" stroke="#000" stroke-width="1.0"/>
<circle cx="185.07" cy="317.90" r="1.4" fill="none" stroke="#000" stroke-width="1.0"/>
<circle cx="189.98" cy="317.90" r="1.4" fill="none" stroke="#000" stroke-width="1.0"/>
<circle cx="194.89" cy="317.90" r="1.4" fill="none" stroke="#000" stroke-width="1.0"/>
<circle cx="199.80" cy="317.90" r="1.4" fill="none" stroke="#000" stroke-width="1.0"/>
<circle cx="204.71" cy="317.90" r="1.4" fill="none" stroke="#000" stroke-width="1.0"/>
<circle cx="209.62" cy="317.90" r="1.4" fill="none" stroke="#000" stroke-width="1.0"/>
<circle cx="214.53" cy="317.90" r="1.4" fill="none" stroke="#000" stroke-width="1.0"/>
<circle cx="224.35" cy="317.90" r="1.4" fill="none" stroke="#000" stroke-width="1.0"/>
<circle cx="72.14" cy="352.19" r="1.4" fill="#6a6a6a" stroke="#000" stroke-width="1.0"/>
<circle cx="74.59" cy="352.19" r="1.4" fill="#6a6a6a" stroke="#000" stroke-width="1.0"/>
<circle cx="77.05" cy="352.19" r="1.4" fill="none" stroke="#000" stroke-width="1.0"/>
<circle cx="79.50" cy="352.19" r="1.4" fill="none" stroke="#000" stroke-width="1.0"/>
<circle cx="81.96" cy="352.19" r="1.4" fill="none" stroke="#000" stroke-width="1.0"/>
<circle cx="84.42" cy="352.19" r="1.4" fill="#6a6a6a" stroke="#000" stroke-width="1.0"/>
<circle cx="86.87" cy="352.19" r="1.4" fill="none" stroke="#000" stroke-width="1.0"/>
<circle cx="89.33" cy="352.19" r="1.4" fill="#6a6a6a" stroke="#000" stroke-width="1.0"/>
<circle cx="91.78" cy="352.19" r="1.4" fill="none" stroke="#000" stroke-width="1.0"/>
<circle cx="94.24" cy="352.19" r="1.4" fill="none" stroke="#000" stroke-width="1.0"/>
<circle cx="99.15" cy="352.19" r="1.4" fill="none" stroke="#000" stroke-width="1.0"/>
<circle cx="101.60" cy="352.19" r="1.4" fill="#6a6a6a" stroke="#000" stroke-width="1.0"/>
<circle cx="104.06" cy="352.19" r="1.4" fill="none" stroke="#000" stroke-width="1.0"/>
<circle cx="108.97" cy="352.19" r="1.4" fill="none" stroke="#000" stroke-width="1.0"/>
<circle cx="111.42" cy="352.19" r="1.4" fill="none" stroke="#000" stroke-width="1.0"/>
<circle cx="113.88" cy="352.19" r="1.4" fill="#6a6a6a" stroke="#000" stroke-width="1.0"/>
<circle cx="116.33" cy="352.19" r="1.4" fill="none" stroke="#000" stroke-width="1.0"/>
<circle cx="118.79" cy="352.19" r="1.4" fill="none" stroke="#000" stroke-width="1.0"/>
<circle cx="123.70" cy="352.19" r="1.4" fill="none" stroke="#000" stroke-width="1.0"/>
<circle cx="128.61" cy="352.19" r="1.4" fill="none" stroke="#000" stroke-width="1.0"/>
<circle cx="133.52" cy="352.19" r="1.4" fill="none" stroke="#000" stroke-width="1.0"/>
<circle cx="138.43" cy="352.19" r="1.4" fill="none" stroke="#000" stroke-width="1.0"/>
<circle cx="143.34" cy="352.19" r="1.4" fill="none" stroke="#000" stroke-width="1.0"/>
<circle cx="148.25" cy="352.19" r="1.4" fill="none" stroke="#000" stroke-width="1.0"/>
<circle cx="150.70" cy="352.19" r="1.4" fill="none" stroke="#000" stroke-width="1.0"/>
<circle cx="153.16" cy="352.19" r="1.4" fill="none" stroke="#000" stroke-width="1.0"/>
<circle cx="158.06" cy="352.19" r="1.4" fill="none" stroke="#000" stroke-width="1.0"/>
<circle cx="162.98" cy="352.19" r="1.4" fill="none" stroke="#000" stroke-width="1.0"/>
<circle cx="172.80" cy="352.19" r="1.4" fill="#6a6a6a" stroke="#000" stroke-width="1.0"/>
<circle cx="177.71" cy="352.19" r="1.4" fill="none" stroke="#000" stroke-width="1.0"/>
<circle cx="182.62" cy="352.19" r="1.4" fill="none" stroke="#000" stroke-width="1.0"/>
<circle cx="187.53" cy="352.19" r="1.4" fill="none" stroke="#000" stroke-width="1.0"/>
<circle cx="192.44" cy="352.19" r="1.4" fill="#6a6a6a" stroke="#000" stroke-width="1.0"/>
<circle cx="197.34" cy="352.19" r="1.4" fill="none" stroke="#000" stroke-width="1.0"/>
<circle cx="202.26" cy="352.19" r="1.4" fill="none" stroke="#000" stroke-width="1.0"/>
<circle cx="207.17" cy="352.19" r="1.4" fill="none" stroke="#000" stroke-width="1.0"/>
<circle cx="212.08" cy="352.19" r="1.4" fill="none" stroke="#000" stroke-width="1.0"/>
<circle cx="216.99" cy="352.19" r="1.4" fill="none" stroke="#000" stroke-width="1.0"/>
<circle cx="221.90" cy="352.19" r="1.4" fill="none" stroke="#000" stroke-width="1.0"/>
<circle cx="226.81" cy="352.19" r="1.4" fill="none" stroke="#000" stroke-width="1.0"/>
<circle cx="231.72" cy="352.19" r="1.4" fill="#6a6a6a" stroke="#000" stroke-width="1.0"/>
<circle cx="236.62" cy="352.19" r="1.4" fill="none" stroke="#000" stroke-width="1.0"/>
<circle cx="72.14" cy="348.38" r="1.4" fill="none" stroke="#000" stroke-width="1.0"/>
<circle cx="74.59" cy="348.38" r="1.4" fill="none" stroke="#000" stroke-width="1.0"/>
<circle cx="77.05" cy="348.38" r="1.4" fill="#6a6a6a" stroke="#000" stroke-width="1.0"/>
<circle cx="81.96" cy="348.38" r="1.4" fill="none" stroke="#000" stroke-width="1.0"/>
<circle cx="86.87" cy="348.38" r="1.4" fill="none" stroke="#000" stroke-width="1.0"/>
<circle cx="89.33" cy="348.38" r="1.4" fill="none" stroke="#000" stroke-width="1.0"/>
<circle cx="91.78" cy="348.38" r="1.4" fill="#6a6a6a" stroke="#000" stroke-width="1.0"/>
<circle cx="94.24" cy="348.38" r="1.4" fill="#6a6a6a" stroke="#000" stroke-width="1.0"/>
<circle cx="96.69" cy="348.38" r="1.4" fill="#6a6a6a" stroke="#000" stroke-width="1.0"/>
<circle cx="99.15" cy="348.38" r="1.4" fill="#6a6a6a" stroke="#000" stroke-width="1.0"/>
<circle cx="101.60" cy="348.38" r="1.4" fill="none" stroke="#000" stroke-width="1.0"/>
<circle cx="104.06" cy="348.38" r="1.4" fill="none" stroke="#000" stroke-width="1.0"/>
<circle cx="106.51" cy="348.38" r="1.4" fill="#6a6a6a" stroke="#000" stroke-width="1.0"/>
<circle cx="108.97" cy="348.38" r="1.4" fill="none" stroke="#000" stroke-width="1.0"/>
<circle cx="111.42" cy="348.38" r="1.4" fill="#6a6a6a" stroke="#000" stroke-width="1.0"/>
<circle cx="116.33" cy="348.38" r="1.4" fill="none" stroke="#000" stroke-width="1.0"/>
<circle cx="118.79" cy="348.38" r="1.4" fill="#6a6a6a" stroke="#000" stroke-width="1.0"/>
<circle cx="121.24" cy="348.38" r="1.4" fill="none" stroke="#000" stroke-width="1.0"/>
<circle cx="126.15" cy="348.38" r="1.4" fill="none" stroke="#000" stroke-width="1.0"/>
<circle cx="128.61" cy="348.38" r="1.4" fill="none" stroke="#000" stroke-width="1.0"/>
<circle cx="131.06" cy="348.38" r="1.4" fill="none" stroke="#000" stroke-width="1.0"/>
<circle cx="135.97" cy="348.38" r="1.4" fill="none" stroke="#000" stroke-width="1.0"/>
<circle cx="140.88" cy="348.38" r="1.4" fill="none" stroke="#000" stroke-width="1.0"/>
<circle cx="145.79" cy="348.38" r="1.4" fill="none" stroke="#000" stroke-width="1.0"/>
<circle cx="150.70" cy="348.38" r="1.4" fill="none" stroke="#000" stroke-width="1.0"/>
<circle cx="155.61" cy="348.38" r="1.4" fill="none" stroke="#000" stroke-width="1.0"/>
<circle cx="160.52" cy="348.38" r="1.4" fill="none" stroke="#000" stroke-width="1.0"/>
<circle cx="165.43" cy="348.38" r="1.4" fill="none" stroke="#000" stroke-width="1.0"/>
<circle cx="170.34" cy="348.38" r="1.4" fill="#6a6a6a" stroke="#000" stroke-width="1.0"/>
<circle cx="172.80" cy="348.38" r="1.4" fill="none" stroke="#000" stroke-width="1.0"/>
<circle cx="175.25" cy="348.38" r="1.4" fill="none" stroke="#000" stroke-width="1.0"/>
<circle cx="180.16" cy="348.38" r="1.4" fill="none" stroke="#000" stroke-width="1.0"/>
<circle cx="189.98" cy="348.38" r="1.4" fill="none" stroke="#000" stroke-width="1.0"/>
<circle cx="194.89" cy="348.38" r="1.4" fill="none" stroke="#000" stroke-width="1.0"/>
<circle cx="199.80" cy="348.38" r="1.4" fill="none" stroke="#000" stroke-width="1.0"/>
<circle cx="204.71" cy="348.38" r="1.4" fill="none" stroke="#000" stroke-width="1.0"/>
<circle cx="214.53" cy="348.38" r="1.4" fill="none" stroke="#000" stroke-width="1.0"/>
<circle cx="219.44" cy="348.38" r="1.4" fill="none" stroke="#000" stroke-width="1.0"/>
<circle cx="229.26" cy="348.38" r="1.4" fill="none" stroke="#000" stroke-width="1.0"/>
<circle cx="234.17" cy="348.38" r="1.4" fill="none" stroke="#000" stroke-width="1.0"/>
<circle cx="69.69" cy="344.57" r="1.4" fill="none" stroke="#000" stroke-width="1.0"/>
<circle cx="74.59" cy="344.57" r="1.4" fill="none" stroke="#000" stroke-width="1.0"/>
<circle cx="79.50" cy="344.57" r="1.4" fill="none" stroke="#000" stroke-width="1.0"/>
<circle cx="81.96" cy="344.57" r="1.4" fill="#6a6a6a" stroke="#000" stroke-width="1.0"/>
<circle cx="84.42" cy="344.57" r="1.4" fill="none" stroke="#000" stroke-width="1.0"/>
<circle cx="86.87" cy="344.57" r="1.4" fill="none" stroke="#000" stroke-width="1.0"/>
<circle cx="89.33" cy="344.57" r="1.4" fill="none" stroke="#000" stroke-width="1.0"/>
<circle cx="94.24" cy="344.57" r="1.4" fill="#6a6a6a" stroke="#000" stroke-width="1.0"/>
<circle cx="96.69" cy="344.57" r="1.4" fill="#6a6a6a" stroke="#000" stroke-width="1.0"/>
<circle cx="99.15" cy="344.57" r="1.4" fill="none" stroke="#000" stroke-width="1.0"/>
<circle cx="101.60" cy="344.57" r="1.4" fill="none" stroke="#000" stroke-width="1.0"/>
<circle cx="104.06" cy="344.57" r="1.4" fill="none" stroke="#000" stroke-width="1.0"/>
<circle cx="106.51" cy="344.57" r="1.4" fill="none" stroke="#000" stroke-width="1.0"/>
<circle cx="108.97" cy="344.57" r="1.4" fill="none" stroke="#000" stroke-width="1.0"/>
<circle cx="111.42" cy="344.57" r="1.4" fill="none" stroke="#000" stroke-width="1.0"/>
<circle cx="113.88" cy="344.57" r="1.4" fill="none" stroke="#000" stroke-width="1.0"/>
<circle cx="116.33" cy="344.57" r="1.4" fill="#6a6a6a" stroke="#000" stroke-width="1.0"/>
<circle cx="118.79" cy="344.57" r="1.4" fill="none" stroke="#000" stroke-width="1.0"/>
<circle cx="121.24" cy="344.57" r="1.4" fill="none" stroke="#000" stroke-width="1.0"/>
<circle cx="123.70" cy="344.57" r="1.4" fill="none" stroke="#000" stroke-width="1.0"/>
<circle cx="128.61" cy="344.57" r="1.4" fill="none" stroke="#000" stroke-width="1.0"/>
<circle cx="133.52" cy="344.57" r="1.4" fill="none" stroke="#000" stroke-width="1.0"/>
<circle cx="135.97" cy="344.57" r="1.4" fill="none" stroke="#000" stroke-width="1.0"/>
<circle cx="138.43" cy="344.57" r="1.4" fill="none" stroke="#000" stroke-width="1.0"/>
<circle cx="143.34" cy="344.57" r="1.4" fill="none" stroke="#000" stroke-width="1.0"/>
<circle cx="153.16" cy="344.57" r="1.4" fill="none" stroke="#000" stroke-width="1.0"/>
<circle cx="158.06" cy="344.57" r="1.4" fill="none" stroke="#000" stroke-width="1.0"/>
<circle cx="162.98" cy="344.57" r="1.4" fill="none" stroke="#000" stroke-width="1.0"/>
<circle cx="167.88" cy="344.57" r="1.4" fill="none" stroke="#000" stroke-width="1.0"/>
<circle cx="172.80" cy="344.57" r="1.4" fill="none" stroke="#000" stroke-width="1.0"/>
<circle cx="177.71" cy="344.57" r="1.4" fill="none" stroke="#000" stroke-width="1.0"/>
<circle cx="182.62" cy="344.57" r="1.4" fill="none" stroke="#000" stroke-width="1.0"/>
<circle cx="187.53" cy="344.57" r="1.4" fill="none" stroke="#000" stroke-width="1.0"/>
<circle cx="192.44" cy="344.57" r="1.4" fill="none" stroke="#000" stroke-width="1.0"/>
<circle cx="197.34" cy="344.57" r="1.4" fill="none" stroke="#000" stroke-width="1.0"/>
<circle cx="202.26" cy="344.57" r="1.4" fill="none" stroke="#000" stroke-width="1.0"/>
<circle cx="207.17" cy="344.57" r="1.4" fill="none" stroke="#000" stroke-width="1.0"/>
<circle cx="212.08" cy="344.57" r="1.4" fill="none" stroke="#000" stroke-width="1.0"/>
<circle cx="216.99" cy="344.57" r="1.4" fill="none" stroke="#000" stroke-width="1.0"/>
<circle cx="221.90" cy="344.57" r="1.4" fill="#6a6a6a" stroke="#000" stroke-width="1.0"/>
<circle cx="226.81" cy="344.57" r="1.4" fill="#6a6a6a" stroke="#000" stroke-width="1.0"/>
<circle cx="231.72" cy="344.57" r="1.4" fill="none" stroke="#000" stroke-width="1.0"/>
<circle cx="81.96" cy="340.76" r="1.4" fill="none" stroke="#000" stroke-width="1.0"/>
<circle cx="86.87" cy="340.76" r="1.4" fill="#6a6a6a" stroke="#000" stroke-width="1.0"/>
<circle cx="89.33" cy="340.76" r="1.4" fill="#6a6a6a" stroke="#000" stroke-width="1.0"/>
<circle cx="91.78" cy="340.76" r="1.4" fill="#6a6a6a" stroke="#000" stroke-width="1.0"/>
<circle cx="94.24" cy="340.76" r="1.4" fill="none" stroke="#000" stroke-width="1.0"/>
<circle cx="96.69" cy="340.76" r="1.4" fill="none" stroke="#000" stroke-width="1.0"/>
<circle cx="101.60" cy="340.76" r="1.4" fill="none" stroke="#000" stroke-width="1.0"/>
<circle cx="106.51" cy="340.76" r="1.4" fill="#6a6a6a" stroke="#000" stroke-width="1.0"/>
<circle cx="108.97" cy="340.76" r="1.4" fill="none" stroke="#000" stroke-width="1.0"/>
<circle cx="111.42" cy="340.76" r="1.4" fill="#6a6a6a" stroke="#000" stroke-width="1.0"/>
<circle cx="116.33" cy="340.76" r="1.4" fill="none" stroke="#000" stroke-width="1.0"/>
<circle cx="121.24" cy="340.76" r="1.4" fill="#6a6a6a" stroke="#000" stroke-width="1.0"/>
<circle cx="126.15" cy="340.76" r="1.4" fill="none" stroke="#000" stroke-width="1.0"/>
<circle cx="135.97" cy="340.76" r="1.4" fill="none" stroke="#000" stroke-width="1.0"/>
<circle cx="140.88" cy="340.76" r="1.4" fill="none" stroke="#000" stroke-width="1.0"/>
<circle cx="143.34" cy="340.76" r="1.4" fill="none" stroke="#000" stroke-width="1.0"/>
<circle cx="145.79" cy="340.76" r="1.4" fill="none" stroke="#000" stroke-width="1.0"/>
<circle cx="150.70" cy="340.76" r="1.4" fill="none" stroke="#000" stroke-width="1.0"/>
<circle cx="155.61" cy="340.76" r="1.4" fill="#6a6a6a" stroke="#000" stroke-width="1.0"/>
<circle cx="160.52" cy="340.76" r="1.4" fill="none" stroke="#000" stroke-width="1.0"/>
<circle cx="165.43" cy="340.76" r="1.4" fill="none" stroke="#000" stroke-width="1.0"/>
<circle cx="170.34" cy="340.76" r="1.4" fill="none" stroke="#000" stroke-width="1.0"/>
<circle cx="175.25" cy="340.76" r="1.4" fill="none" stroke="#000" stroke-width="1.0"/>
<circle cx="180.16" cy="340.76" r="1.4" fill="none" stroke="#000" stroke-width="1.0"/>
<circle cx="185.07" cy="340.76" r="1.4" fill="none" stroke="#000" stroke-width="1.0"/>
<circle cx="189.98" cy="340.76" r="1.4" fill="none" stroke="#000" stroke-width="1.0"/>
<circle cx="194.89" cy="340.76" r="1.4" fill="none" stroke="#000" stroke-width="1.0"/>
<circle cx="199.80" cy="340.76" r="1.4" fill="none" stroke="#000" stroke-width="1.0"/>
<circle cx="204.71" cy="340.76" r="1.4" fill="none" stroke="#000" stroke-width="1.0"/>
<circle cx="209.62" cy="340.76" r="1.4" fill="none" stroke="#000" stroke-width="1.0"/>
<circle cx="214.53" cy="340.76" r="1.4" fill="none" stroke="#000" stroke-width="1.0"/>
<circle cx="219.44" cy="340.76" r="1.4" fill="none" stroke="#000" stroke-width="1.0"/>
<circle cx="229.26" cy="340.76" r="1.4" fill="none" stroke="#000" stroke-width="1.0"/>
<circle cx="79.50" cy="336.95" r="1.4" fill="none" stroke="#000" stroke-width="1.0"/>
<circle cx="81.96" cy="336.95" r="1.4" fill="none" stroke="#000" stroke-width="1.0"/>
<circle cx="84.42" cy="336.95" r="1.4" fill="none" stroke="#000" stroke-width="1.0"/>
<circle cx="86.87" cy="336.95" r="1.4" fill="none" stroke="#000" stroke-width="1.0"/>
<circle cx="89.33" cy="336.95" r="1.4" fill="#6a6a6a" stroke="#000" stroke-width="1.0"/>
<circle cx="91.78" cy="336.95" r="1.4" fill="none" stroke="#000" stroke-width="1.0"/>
<circle cx="94.24" cy="336.95" r="1.4" fill="#6a6a6a" stroke="#000" stroke-width="1.0"/>
<circle cx="99.15" cy="336.95" r="1.4" fill="none" stroke="#000" stroke-width="1.0"/>
<circle cx="104.06" cy="336.95" r="1.4" fill="none" stroke="#000" stroke-width="1.0"/>
<circle cx="108.97" cy="336.95" r="1.4" fill="none" stroke="#000" stroke-width="1.0"/>
<circle cx="113.88" cy="336.95" r="1.4" fill="none" stroke="#000" stroke-width="1.0"/>
<circle cx="118.79" cy="336.95" r="1.4" fill="#6a6a6a" stroke="#000" stroke-width="1.0"/>
<circle cx="123.70" cy="336.95" r="1.4" fill="none" stroke="#000" stroke-width="1.0"/>
<circle cx="128.61" cy="336.95" r="1.4" fill="none" stroke="#000" stroke-width="1.0"/>
<circle cx="133.52" cy="336.95" r="1.4" fill="none" stroke="#000" stroke-width="1.0"/>
<circle cx="138.43" cy="336.95" r="1.4" fill="none" stroke="#000" stroke-width="1.0"/>
<circle cx="143.34" cy="336.95" r="1.4" fill="none" stroke="#000" stroke-width="1.0"/>
<circle cx="148.25" cy="336.95" r="1.4" fill="none" stroke="#000" stroke-width="1.0"/>
<circle cx="153.16" cy="336.95" r="1.4" fill="none" stroke="#000" stroke-width="1.0"/>
<circle cx="158.06" cy="336.95" r="1.4" fill="none" stroke="#000" stroke-width="1.0"/>
<circle cx="162.98" cy="336.95" r="1.4" fill="#6a6a6a" stroke="#000" stroke-width="1.0"/>
<circle cx="167.88" cy="336.95" r="1.4" fill="none" stroke="#000" stroke-width="1.0"/>
<circle cx="172.80" cy="336.95" r="1.4" fill="#6a6a6a" stroke="#000" stroke-width="1.0"/>
<circle cx="177.71" cy="336.95" r="1.4" fill="#6a6a6a" stroke="#000" stroke-width="1.0"/>
<circle cx="182.62" cy="336.95" r="1.4" fill="none" stroke="#000" stroke-width="1.0"/>
<circle cx="192.44" cy="336.95" r="1.4" fill="none" stroke="#000" stroke-width="1.0"/>
<circle cx="197.34" cy="336.95" r="1.4" fill="none" stroke="#000" stroke-width="1.0"/>
<circle cx="202.26" cy="336.95" r="1.4" fill="none" stroke="#000" stroke-width="1.0"/>
<circle cx="207.17" cy="336.95" r="1.4" fill="none" stroke="#000" stroke-width="1.0"/>
<circle cx="212.08" cy="336.95" r="1.4" fill="#6a6a6a" stroke="#000" stroke-width="1.0"/>
<circle cx="216.99" cy="336.95" r="1.4" fill="none" stroke="#000" stroke-width="1.0"/>
<circle cx="221.90" cy="336.95" r="1.4" fill="none" stroke="#000" stroke-width="1.0"/>
<circle cx="226.81" cy="336.95" r="1.4" fill="none" stroke="#000" stroke-width="1.0"/>
<circle cx="72.14" cy="333.14" r="1.4" fill="#6a6a6a" stroke="#000" stroke-width="1.0"/>
<circle cx="77.05" cy="333.14" r="1.4" fill="#6a6a6a" stroke="#000" stroke-width="1.0"/>
<circle cx="79.50" cy="333.14" r="1.4" fill="none" stroke="#000" stroke-width="1.0"/>
<circle cx="81.96" cy="333.14" r="1.4" fill="none" stroke="#000" stroke-width="1.0"/>
<circle cx="84.42" cy="333.14" r="1.4" fill="#6a6a6a" stroke="#000" stroke-width="1.0"/>
<circle cx="86.87" cy="333.14" r="1.4" fill="#6a6a6a" stroke="#000" stroke-width="1.0"/>
<circle cx="89.33" cy="333.14" r="1.4" fill="#6a6a6a" stroke="#000" stroke-width="1.0"/>
<circle cx="91.78" cy="333.14" r="1.4" fill="none" stroke="#000" stroke-width="1.0"/>
<circle cx="94.24" cy="333.14" r="1.4" fill="none" stroke="#000" stroke-width="1.0"/>
<circle cx="96.69" cy="333.14" r="1.4" fill="none" stroke="#000" stroke-width="1.0"/>
<circle cx="101.60" cy="333.14" r="1.4" fill="none" stroke="#000" stroke-width="1.0"/>
<circle cx="104.06" cy="333.14" r="1.4" fill="#6a6a6a" stroke="#000" stroke-width="1.0"/>
<circle cx="106.51" cy="333.14" r="1.4" fill="none" stroke="#000" stroke-width="1.0"/>
<circle cx="108.97" cy="333.14" r="1.4" fill="none" stroke="#000" stroke-width="1.0"/>
<circle cx="111.42" cy="333.14" r="1.4" fill="none" stroke="#000" stroke-width="1.0"/>
<circle cx="113.88" cy="333.14" r="1.4" fill="none" stroke="#000" stroke-width="1.0"/>
<circle cx="116.33" cy="333.14" r="1.4" fill="none" stroke="#000" stroke-width="1.0"/>
<circle cx="121.24" cy="333.14" r="1.4" fill="none" stroke="#000" stroke-width="1.0"/>
<circle cx="126.15" cy="333.14" r="1.4" fill="none" stroke="#000" stroke-width="1.0"/>
<circle cx="131.06" cy="333.14" r="1.4" fill="none" stroke="#000" stroke-width="1.0"/>
<circle cx="135.97" cy="333.14" r="1.4" fill="none" stroke="#000" stroke-width="1.0"/>
<circle cx="140.88" cy="333.14" r="1.4" fill="#6a6a6a" stroke="#000" stroke-width="1.0"/>
<circle cx="145.79" cy="333.14" r="1.4" fill="none" stroke="#000" stroke-width="1.0"/>
<circle cx="150.70" cy="333.14" r="1.4" fill="none" stroke="#000" stroke-width="1.0"/>
<circle cx="155.61" cy="333.14" r="1.4" fill="none" stroke="#000" stroke-width="1.0"/>
<circle cx="160.52" cy="333.14" r="1.4" fill="none" stroke="#000" stroke-width="1.0"/>
<circle cx="170.34" cy="333.14" r="1.4" fill="#6a6a6a" stroke="#000" stroke-width="1.0"/>
<circle cx="175.25" cy="333.14" r="1.4" fill="none" stroke="#000" stroke-width="1.0"/>
<circle cx="180.16" cy="333.14" r="1.4" fill="#6a6a6a" stroke="#000" stroke-width="1.0"/>
<circle cx="185.07" cy="333.14" r="1.4" fill="none" stroke="#000" stroke-width="1.0"/>
<circle cx="189.98" cy="333.14" r="1.4" fill="none" stroke="#000" stroke-width="1.0"/>
<circle cx="194.89" cy="333.14" r="1.4" fill="none" stroke="#000" stroke-width="1.0"/>
<circle cx="199.80" cy="333.14" r="1.4" fill="none" stroke="#000" stroke-width="1.0"/>
<circle cx="204.71" cy="333.14" r="1.4" fill="none" stroke="#000" stroke-width="1.0"/>
<circle cx="209.62" cy="333.14" r="1.4" fill="none" stroke="#000" stroke-width="1.0"/>
<circle cx="219.44" cy="333.14" r="1.4" fill="none" stroke="#000" stroke-width="1.0"/>
<circle cx="224.35" cy="333.14" r="1.4" fill="none" stroke="#000" stroke-width="1.0"/>
<circle cx="81.96" cy="329.33" r="1.4" fill="#6a6a6a" stroke="#000" stroke-width="1.0"/>
<circle cx="84.42" cy="329.33" r="1.4" fill="none" stroke="#000" stroke-width="1.0"/>
<circle cx="89.33" cy="329.33" r="1.4" fill="none" stroke="#000" stroke-width="1.0"/>
<circle cx="91.78" cy="329.33" r="1.4" fill="none" stroke="#000" stroke-width="1.0"/>
<circle cx="94.24" cy="329.33" r="1.4" fill="#6a6a6a" stroke="#000" stroke-width="1.0"/>
<circle cx="96.69" cy="329.33" r="1.4" fill="none" stroke="#000" stroke-width="1.0"/>
<circle cx="99.15" cy="329.33" r="1.4" fill="none" stroke="#000" stroke-width="1.0"/>
<circle cx="101.60" cy="329.33" r="1.4" fill="none" stroke="#000" stroke-width="1.0"/>
<circle cx="104.06" cy="329.33" r="1.4" fill="#6a6a6a" stroke="#000" stroke-width="1.0"/>
<circle cx="106.51" cy="329.33" r="1.4" fill="none" stroke="#000" stroke-width="1.0"/>
<circle cx="108.97" cy="329.33" r="1.4" fill="none" stroke="#000" stroke-width="1.0"/>
<circle cx="113.88" cy="329.33" r="1.4" fill="#6a6a6a" stroke="#000" stroke-width="1.0"/>
<circle cx="116.33" cy="329.33" r="1.4" fill="none" stroke="#000" stroke-width="1.0"/>
<circle cx="118.79" cy="329.33" r="1.4" fill="none" stroke="#000" stroke-width="1.0"/>
<circle cx="123.70" cy="329.33" r="1.4" fill="none" stroke="#000" stroke-width="1.0"/>
<circle cx="128.61" cy="329.33" r="1.4" fill="none" stroke="#000" stroke-width="1.0"/>
<circle cx="133.52" cy="329.33" r="1.4" fill="#6a6a6a" stroke="#000" stroke-width="1.0"/>
<circle cx="135.97" cy="329.33" r="1.4" fill="none" stroke="#000" stroke-width="1.0"/>
<circle cx="138.43" cy="329.33" r="1.4" fill="none" stroke="#000" stroke-width="1.0"/>
<circle cx="143.34" cy="329.33" r="1.4" fill="none" stroke="#000" stroke-width="1.0"/>
<circle cx="148.25" cy="329.33" r="1.4" fill="#6a6a6a" stroke="#000" stroke-width="1.0"/>
<circle cx="153.16" cy="329.33" r="1.4" fill="none" stroke="#000" stroke-width="1.0"/>
<circle cx="158.06" cy="329.33" r="1.4" fill="none" stroke="#000" stroke-width="1.0"/>
<circle cx="162.98" cy="329.33" r="1.4" fill="none" stroke="#000" stroke-width="1.0"/>
<circle cx="167.88" cy="329.33" r="1.4" fill="none" stroke="#000" stroke-width="1.0"/>
<circle cx="172.80" cy="329.33" r="1.4" fill="none" stroke="#000" stroke-width="1.0"/>
<circle cx="177.71" cy="329.33" r="1.4" fill="none" stroke="#000" stroke-width="1.0"/>
<circle cx="187.53" cy="329.33" r="1.4" fill="none" stroke="#000" stroke-width="1.0"/>
<circle cx="192.44" cy="329.33" r="1.4" fill="none" stroke="#000" stroke-width="1.0"/>
<circle cx="197.34" cy="329.33" r="1.4" fill="#6a6a6a" stroke="#000" stroke-width="1.0"/>
<circle cx="202.26" cy="329.33" r="1.4" fill="none" stroke="#000" stroke-width="1.0"/>
<circle cx="207.17" cy="329.33" r="1.4" fill="none" stroke="#000" stroke-width="1.0"/>
<circle cx="212.08" cy="329.33" r="1.4" fill="none" stroke="#000" stroke-width="1.0"/>
<circle cx="216.99" cy="329.33" r="1.4" fill="none" stroke="#000" stroke-width="1.0"/>
<circle cx="86.87" cy="325.52" r="1.4" fill="#6a6a6a" stroke="#000" stroke-width="1.0"/>
<circle cx="91.78" cy="325.52" r="1.4" fill="none" stroke="#000" stroke-width="1.0"/>
<circle cx="94.24" cy="325.52" r="1.4" fill="#6a6a6a" stroke="#000" stroke-width="1.0"/>
<circle cx="96.69" cy="325.52" r="1.4" fill="#6a6a6a" stroke="#000" stroke-width="1.0"/>
<circle cx="101.60" cy="325.52" r="1.4" fill="#6a6a6a" stroke="#000" stroke-width="1.0"/>
<circle cx="104.06" cy="325.52" r="1.4" fill="none" stroke="#000" stroke-width="1.0"/>
<circle cx="106.51" cy="325.52" r="1.4" fill="none" stroke="#000" stroke-width="1.0"/>
<circle cx="108.97" cy="325.52" r="1.4" fill="none" stroke="#000" stroke-width="1.0"/>
<circle cx="111.42" cy="325.52" r="1.4" fill="none" stroke="#000" stroke-width="1.0"/>
<circle cx="113.88" cy="325.52" r="1.4" fill="#6a6a6a" stroke="#000" stroke-width="1.0"/>
<circle cx="116.33" cy="325.52" r="1.4" fill="none" stroke="#000" stroke-width="1.0"/>
<circle cx="121.24" cy="325.52" r="1.4" fill="none" stroke="#000" stroke-width="1.0"/>
<circle cx="126.15" cy="325.52" r="1.4" fill="none" stroke="#000" stroke-width="1.0"/>
<circle cx="128.61" cy="325.52" r="1.4" fill="none" stroke="#000" stroke-width="1.0"/>
<circle cx="131.06" cy="325.52" r="1.4" fill="#6a6a6a" stroke="#000" stroke-width="1.0"/>
<circle cx="135.97" cy="325.52" r="1.4" fill="none" stroke="#000" stroke-width="1.0"/>
<circle cx="140.88" cy="325.52" r="1.4" fill="#6a6a6a" stroke="#000" stroke-width="1.0"/>
<circle cx="145.79" cy="325.52" r="1.4" fill="none" stroke="#000" stroke-width="1.0"/>
<circle cx="155.61" cy="325.52" r="1.4" fill="none" stroke="#000" stroke-width="1.0"/>
<circle cx="160.52" cy="325.52" r="1.4" fill="#6a6a6a" stroke="#000" stroke-width="1.0"/>
<circle cx="165.43" cy="325.52" r="1.4" fill="none" stroke="#000" stroke-width="1.0"/>
<circle cx="170.34" cy="325.52" r="1.4" fill="none" stroke="#000" stroke-width="1.0"/>
<circle cx="172.80" cy="325.52" r="1.4" fill="none" stroke="#000" stroke-width="1.0"/>
<circle cx="175.25" cy="325.52" r="1.4" fill="none" stroke="#000" stroke-width="1.0"/>
<circle cx="177.71" cy="325.52" r="1.4" fill="#6a6a6a" stroke="#000" stroke-width="1.0"/>
<circle cx="180.16" cy="325.52" r="1.4" fill="none" stroke="#000" stroke-width="1.0"/>
<circle cx="185.07" cy="325.52" r="1.4" fill="none" stroke="#000" stroke-width="1.0"/>
<circle cx="189.98" cy="325.52" r="1.4" fill="none" stroke="#000" stroke-width="1.0"/>
<circle cx="194.89" cy="325.52" r="1.4" fill="none" stroke="#000" stroke-width="1.0"/>
<circle cx="199.80" cy="325.52" r="1.4" fill="#6a6a6a" stroke="#000" stroke-width="1.0"/>
<circle cx="212.08" cy="325.52" r="1.4" fill="none" stroke="#000" stroke-width="1.0"/>
<circle cx="214.53" cy="325.52" r="1.4" fill="none" stroke="#000" stroke-width="1.0"/>
<circle cx="219.44" cy="325.52" r="1.4" fill="none" stroke="#000" stroke-width="1.0"/>
<circle cx="84.42" cy="321.71" r="1.4" fill="none" stroke="#000" stroke-width="1.0"/>
<circle cx="86.87" cy="321.71" r="1.4" fill="none" stroke="#000" stroke-width="1.0"/>
<circle cx="89.33" cy="321.71" r="1.4" fill="none" stroke="#000" stroke-width="1.0"/>
<circle cx="94.24" cy="321.71" r="1.4" fill="none" stroke="#000" stroke-width="1.0"/>
<circle cx="96.69" cy="321.71" r="1.4" fill="none" stroke="#000" stroke-width="1.0"/>
<circle cx="99.15" cy="321.71" r="1.4" fill="#6a6a6a" stroke="#000" stroke-width="1.0"/>
<circle cx="101.60" cy="321.71" r="1.4" fill="none" stroke="#000" stroke-width="1.0"/>
<circle cx="104.06" cy="321.71" r="1.4" fill="#6a6a6a" stroke="#000" stroke-width="1.0"/>
<circle cx="106.51" cy="321.71" r="1.4" fill="none" stroke="#000" stroke-width="1.0"/>
<circle cx="108.97" cy="321.71" r="1.4" fill="none" stroke="#000" stroke-width="1.0"/>
<circle cx="113.88" cy="321.71" r="1.4" fill="#6a6a6a" stroke="#000" stroke-width="1.0"/>
<circle cx="116.33" cy="321.71" r="1.4" fill="#6a6a6a" stroke="#000" stroke-width="1.0"/>
<circle cx="118.79" cy="321.71" r="1.4" fill="none" stroke="#000" stroke-width="1.0"/>
<circle cx="121.24" cy="321.71" r="1.4" fill="#6a6a6a" stroke="#000" stroke-width="1.0"/>
<circle cx="123.70" cy="321.71" r="1.4" fill="none" stroke="#000" stroke-width="1.0"/>
<circle cx="128.61" cy="321.71" r="1.4" fill="none" stroke="#000" stroke-width="1.0"/>
<circle cx="133.52" cy="321.71" r="1.4" fill="none" stroke="#000" stroke-width="1.0"/>
<circle cx="138.43" cy="321.71" r="1.4" fill="none" stroke="#000" stroke-width="1.0"/>
<circle cx="143.34" cy="321.71" r="1.4" fill="none" stroke="#000" stroke-width="1.0"/>
<circle cx="148.25" cy="321.71" r="1.4" fill="none" stroke="#000" stroke-width="1.0"/>
<circle cx="153.16" cy="321.71" r="1.4" fill="none" stroke="#000" stroke-width="1.0"/>
<circle cx="158.06" cy="321.71" r="1.4" fill="none" stroke="#000" stroke-width="1.0"/>
<circle cx="162.98" cy="321.71" r="1.4" fill="none" stroke="#000" stroke-width="1.0"/>
<circle cx="167.88" cy="321.71" r="1.4" fill="none" stroke="#000" stroke-width="1.0"/>
<circle cx="175.25" cy="321.71" r="1.4" fill="none" stroke="#000" stroke-width="1.0"/>
<circle cx="177.71" cy="321.71" r="1.4" fill="none" stroke="#000" stroke-width="1.0"/>
<circle cx="182.62" cy="321.71" r="1.4" fill="none" stroke="#000" stroke-width="1.0"/>
<circle cx="187.53" cy="321.71" r="1.4" fill="none" stroke="#000" stroke-width="1.0"/>
<circle cx="192.44" cy="321.71" r="1.4" fill="none" stroke="#000" stroke-width="1.0"/>
<circle cx="197.34" cy="321.71" r="1.4" fill="none" stroke="#000" stroke-width="1.0"/>
<circle cx="202.26" cy="321.71" r="1.4" fill="none" stroke="#000" stroke-width="1.0"/>
<circle cx="207.17" cy="321.71" r="1.4" fill="none" stroke="#000" stroke-width="1.0"/>
<circle cx="212.08" cy="321.71" r="1.4" fill="#6a6a6a" stroke="#000" stroke-width="1.0"/>
<circle cx="216.99" cy="321.71" r="1.4" fill="none" stroke="#000" stroke-width="1.0"/>
<circle cx="86.87" cy="317.90" r="1.4" fill="none" stroke="#000" stroke-width="1.0"/>
<circle cx="89.33" cy="317.90" r="1.4" fill="#6a6a6a" stroke="#000" stroke-width="1.0"/>
<circle cx="91.78" cy="317.90" r="1.4" fill="none" stroke="#000" stroke-width="1.0"/>
<circle cx="94.24" cy="317.90" r="1.4" fill="none" stroke="#000" stroke-width="1.0"/>
<circle cx="96.69" cy="317.90" r="1.4" fill="#6a6a6a" stroke="#000" stroke-width="1.0"/>
<circle cx="99.15" cy="317.90" r="1.4" fill="none" stroke="#000" stroke-width="1.0"/>
<circle cx="101.60" cy="317.90" r="1.4" fill="none" stroke="#000" stroke-width="1.0"/>
<circle cx="106.51" cy="317.90" r="1.4" fill="none" stroke="#000" stroke-width="1.0"/>
<circle cx="108.97" cy="317.90" r="1.4" fill="none" stroke="#000" stroke-width="1.0"/>
<circle cx="111.42" cy="317.90" r="1.4" fill="none" stroke="#000" stroke-width="1.0"/>
<circle cx="113.88" cy="317.90" r="1.4" fill="#6a6a6a" stroke="#000" stroke-width="1.0"/>
<circle cx="116.33" cy="317.90" r="1.4" fill="#6a6a6a" stroke="#000" stroke-width="1.0"/>
<circle cx="118.79" cy="317.90" r="1.4" fill="none" stroke="#000" stroke-width="1.0"/>
<circle cx="121.24" cy="317.90" r="1.4" fill="none" stroke="#000" stroke-width="1.0"/>
<circle cx="123.70" cy="317.90" r="1.4" fill="none" stroke="#000" stroke-width="1.0"/>
<circle cx="126.15" cy="317.90" r="1.4" fill="none" stroke="#000" stroke-width="1.0"/>
<circle cx="128.61" cy="317.90" r="1.4" fill="none" stroke="#000" stroke-width="1.0"/>
<circle cx="131.06" cy="317.90" r="1.4" fill="none" stroke="#000" stroke-width="1.0"/>
<circle cx="133.52" cy="317.90" r="1.4" fill="none" stroke="#000" stroke-width="1.0"/>
<circle cx="135.97" cy="317.90" r="1.4" fill="none" stroke="#000" stroke-width="1.0"/>
<circle cx="138.43" cy="317.90" r="1.4" fill="none" stroke="#000" stroke-width="1.0"/>
<circle cx="140.88" cy="317.90" r="1.4" fill="none" stroke="#000" stroke-width="1.0"/>
<circle cx="143.34" cy="317.90" r="1.4" fill="none" stroke="#000" stroke-width="1.0"/>
<circle cx="145.79" cy="317.90" r="1.4" fill="none" stroke="#000" stroke-width="1.0"/>
<circle cx="148.25" cy="317.90" r="1.4" fill="none" stroke="#000" stroke-width="1.0"/>
<circle cx="89.33" cy="314.09" r="1.4" fill="#6a6a6a" stroke="#000" stroke-width="1.0"/>
<circle cx="94.24" cy="314.09" r="1.4" fill="none" stroke="#000" stroke-width="1.0"/>
<circle cx="96.69" cy="314.09" r="1.4" fill="none" stroke="#000" stroke-width="1.0"/>
<circle cx="99.15" cy="314.09" r="1.4" fill="none" stroke="#000" stroke-width="1.0"/>
<circle cx="101.60" cy="314.09" r="1.4" fill="none" stroke="#000" stroke-width="1.0"/>
<circle cx="104.06" cy="314.09" r="1.4" fill="none" stroke="#000" stroke-width="1.0"/>
<circle cx="106.51" cy="314.09" r="1.4" fill="#6a6a6a" stroke="#000" stroke-width="1.0"/>
<circle cx="108.97" cy="314.09" r="1.4" fill="none" stroke="#000" stroke-width="1.0"/>
<circle cx="111.42" cy="314.09" r="1.4" fill="#6a6a6a" stroke="#000" stroke-width="1.0"/>
<circle cx="113.88" cy="314.09" r="1.4" fill="none" stroke="#000" stroke-width="1.0"/>
<circle cx="118.79" cy="314.09" r="1.4" fill="none" stroke="#000" stroke-width="1.0"/>
<circle cx="123.70" cy="314.09" r="1.4" fill="none" stroke="#000" stroke-width="1.0"/>
<circle cx="126.15" cy="314.09" r="1.4" fill="none" stroke="#000" stroke-width="1.0"/>
<circle cx="128.61" cy="314.09" r="1.4" fill="none" stroke="#000" stroke-width="1.0"/>
<circle cx="133.52" cy="314.09" r="1.4" fill="none" stroke="#000" stroke-width="1.0"/>
<circle cx="138.43" cy="314.09" r="1.4" fill="none" stroke="#000" stroke-width="1.0"/>
<circle cx="143.34" cy="314.09" r="1.4" fill="none" stroke="#000" stroke-width="1.0"/>
<circle cx="148.25" cy="314.09" r="1.4" fill="none" stroke="#000" stroke-width="1.0"/>
<circle cx="153.16" cy="314.09" r="1.4" fill="none" stroke="#000" stroke-width="1.0"/>
<circle cx="96.69" cy="310.28" r="1.4" fill="#6a6a6a" stroke="#000" stroke-width="1.0"/>
<circle cx="99.15" cy="310.28" r="1.4" fill="none" stroke="#000" stroke-width="1.0"/>
<circle cx="101.60" cy="310.28" r="1.4" fill="none" stroke="#000" stroke-width="1.0"/>
<circle cx="104.06" cy="310.28" r="1.4" fill="#6a6a6a" stroke="#000" stroke-width="1.0"/>
<circle cx="106.51" cy="310.28" r="1.4" fill="#6a6a6a" stroke="#000" stroke-width="1.0"/>
<circle cx="111.42" cy="310.28" r="1.4" fill="none" stroke="#000" stroke-width="1.0"/>
<circle cx="113.88" cy="310.28" r="1.4" fill="none" stroke="#000" stroke-width="1.0"/>
<circle cx="116.33" cy="310.28" r="1.4" fill="none" stroke="#000" stroke-width="1.0"/>
<circle cx="118.79" cy="310.28" r="1.4" fill="none" stroke="#000" stroke-width="1.0"/>
<circle cx="121.24" cy="310.28" r="1.4" fill="none" stroke="#000" stroke-width="1.0"/>
<circle cx="126.15" cy="310.28" r="1.4" fill="none" stroke="#000" stroke-width="1.0"/>
<circle cx="131.06" cy="310.28" r="1.4" fill="none" stroke="#000" stroke-width="1.0"/>
<circle cx="133.52" cy="310.28" r="1.4" fill="none" stroke="#000" stroke-width="1.0"/>
<circle cx="135.97" cy="310.28" r="1.4" fill="#6a6a6a" stroke="#000" stroke-width="1.0"/>
<circle cx="140.88" cy="310.28" r="1.4" fill="none" stroke="#000" stroke-width="1.0"/>
<circle cx="145.79" cy="310.28" r="1.4" fill="none" stroke="#000" stroke-width="1.0"/>
<circle cx="148.25" cy="310.28" r="1.4" fill="none" stroke="#000" stroke-width="1.0"/>
<circle cx="94.24" cy="306.47" r="1.4" fill="none" stroke="#000" stroke-width="1.0"/>
<circle cx="96.69" cy="306.47" r="1.4" fill="#6a6a6a" stroke="#000" stroke-width="1.0"/>
<circle cx="99.15" cy="306.47" r="1.4" fill="#6a6a6a" stroke="#000" stroke-width="1.0"/>
<circle cx="104.06" cy="306.47" r="1.4" fill="none" stroke="#000" stroke-width="1.0"/>
<circle cx="106.51" cy="306.47" r="1.4" fill="none" stroke="#000" stroke-width="1.0"/>
<circle cx="108.97" cy="306.47" r="1.4" fill="none" stroke="#000" stroke-width="1.0"/>
<circle cx="111.42" cy="306.47" r="1.4" fill="none" stroke="#000" stroke-width="1.0"/>
<circle cx="113.88" cy="306.47" r="1.4" fill="none" stroke="#000" stroke-width="1.0"/>
<circle cx="116.33" cy="306.47" r="1.4" fill="none" stroke="#000" stroke-width="1.0"/>
<circle cx="118.79" cy="306.47" r="1.4" fill="none" stroke="#000" stroke-width="1.0"/>
<circle cx="123.70" cy="306.47" r="1.4" fill="none" stroke="#000" stroke-width="1.0"/>
<circle cx="128.61" cy="306.47" r="1.4" fill="none" stroke="#000" stroke-width="1.0"/>
<circle cx="133.52" cy="306.47" r="1.4" fill="none" stroke="#000" stroke-width="1.0"/>
<circle cx="135.97" cy="306.47" r="1.4" fill="none" stroke="#000" stroke-width="1.0"/>
<circle cx="138.43" cy="306.47" r="1.4" fill="none" stroke="#000" stroke-width="1.0"/>
<circle cx="143.34" cy="306.47" r="1.4" fill="none" stroke="#000" stroke-width="1.0"/>
<circle cx="148.25" cy="306.47" r="1.4" fill="none" stroke="#000" stroke-width="1.0"/>
<circle cx="150.70" cy="306.47" r="1.4" fill="#6a6a6a" stroke="#000" stroke-width="1.0"/>
<circle cx="153.16" cy="306.47" r="1.4" fill="none" stroke="#000" stroke-width="1.0"/>
<circle cx="101.60" cy="302.66" r="1.4" fill="none" stroke="#000" stroke-width="1.0"/>
<circle cx="106.51" cy="302.66" r="1.4" fill="#6a6a6a" stroke="#000" stroke-width="1.0"/>
<circle cx="108.97" cy="302.66" r="1.4" fill="#6a6a6a" stroke="#000" stroke-width="1.0"/>
<circle cx="111.42" cy="302.66" r="1.4" fill="none" stroke="#000" stroke-width="1.0"/>
<circle cx="113.88" cy="302.66" r="1.4" fill="none" stroke="#000" stroke-width="1.0"/>
<circle cx="116.33" cy="302.66" r="1.4" fill="none" stroke="#000" stroke-width="1.0"/>
<circle cx="121.24" cy="302.66" r="1.4" fill="none" stroke="#000" stroke-width="1.0"/>
<circle cx="126.15" cy="302.66" r="1.4" fill="none" stroke="#000" stroke-width="1.0"/>
<circle cx="131.06" cy="302.66" r="1.4" fill="#6a6a6a" stroke="#000" stroke-width="1.0"/>
<circle cx="135.97" cy="302.66" r="1.4" fill="none" stroke="#000" stroke-width="1.0"/>
<circle cx="140.88" cy="302.66" r="1.4" fill="#6a6a6a" stroke="#000" stroke-width="1.0"/>
<circle cx="145.79" cy="302.66" r="1.4" fill="none" stroke="#000" stroke-width="1.0"/>
<circle cx="150.70" cy="302.66" r="1.4" fill="none" stroke="#000" stroke-width="1.0"/>
<circle cx="96.69" cy="298.85" r="1.4" fill="none" stroke="#000" stroke-width="1.0"/>
<circle cx="99.15" cy="298.85" r="1.4" fill="none" stroke="#000" stroke-width="1.0"/>
<circle cx="101.60" cy="298.85" r="1.4" fill="#6a6a6a" stroke="#000" stroke-width="1.0"/>
<circle cx="104.06" cy="298.85" r="1.4" fill="none" stroke="#000" stroke-width="1.0"/>
<circle cx="106.51" cy="298.85" r="1.4" fill="none" stroke="#000" stroke-width="1.0"/>
<circle cx="108.97" cy="298.85" r="1.4" fill="none" stroke="#000" stroke-width="1.0"/>
<circle cx="111.42" cy="298.85" r="1.4" fill="none" stroke="#000" stroke-width="1.0"/>
<circle cx="113.88" cy="298.85" r="1.4" fill="none" stroke="#000" stroke-width="1.0"/>
<circle cx="118.79" cy="298.85" r="1.4" fill="none" stroke="#000" stroke-width="1.0"/>
<circle cx="123.70" cy="298.85" r="1.4" fill="none" stroke="#000" stroke-width="1.0"/>
<circle cx="128.61" cy="298.85" r="1.4" fill="#6a6a6a" stroke="#000" stroke-width="1.0"/>
<circle cx="133.52" cy="298.85" r="1.4" fill="none" stroke="#000" stroke-width="1.0"/>
<circle cx="138.43" cy="298.85" r="1.4" fill="none" stroke="#000" stroke-width="1.0"/>
<circle cx="143.34" cy="298.85" r="1.4" fill="#6a6a6a" stroke="#000" stroke-width="1.0"/>
<circle cx="148.25" cy="298.85" r="1.4" fill="none" stroke="#000" stroke-width="1.0"/>
<circle cx="153.16" cy="298.85" r="1.4" fill="none" stroke="#000" stroke-width="1.0"/>
<circle cx="99.15" cy="295.04" r="1.4" fill="none" stroke="#000" stroke-width="1.0"/>
<circle cx="101.60" cy="295.04" r="1.4" fill="none" stroke="#000" stroke-width="1.0"/>
<circle cx="106.51" cy="295.04" r="1.4" fill="none" stroke="#000" stroke-width="1.0"/>
<circle cx="111.42" cy="295.04" r="1.4" fill="#6a6a6a" stroke="#000" stroke-width="1.0"/>
<circle cx="116.33" cy="295.04" r="1.4" fill="none" stroke="#000" stroke-width="1.0"/>
<circle cx="121.24" cy="295.04" r="1.4" fill="none" stroke="#000" stroke-width="1.0"/>
<circle cx="126.15" cy="295.04" r="1.4" fill="none" stroke="#000" stroke-width="1.0"/>
<circle cx="131.06" cy="295.04" r="1.4" fill="none" stroke="#000" stroke-width="1.0"/>
<circle cx="140.88" cy="295.04" r="1.4" fill="none" stroke="#000" stroke-width="1.0"/>
<circle cx="145.79" cy="295.04" r="1.4" fill="none" stroke="#000" stroke-width="1.0"/>
<circle cx="150.70" cy="295.04" r="1.4" fill="none" stroke="#000" stroke-width="1.0"/>
<circle cx="101.60" cy="291.23" r="1.4" fill="none" stroke="#000" stroke-width="1.0"/>
<circle cx="104.06" cy="291.23" r="1.4" fill="#6a6a6a" stroke="#000" stroke-width="1.0"/>
<circle cx="106.51" cy="291.23" r="1.4" fill="none" stroke="#000" stroke-width="1.0"/>
<circle cx="108.97" cy="291.23" r="1.4" fill="none" stroke="#000" stroke-width="1.0"/>
<circle cx="111.42" cy="291.23" r="1.4" fill="#6a6a6a" stroke="#000" stroke-width="1.0"/>
<circle cx="113.88" cy="291.23" r="1.4" fill="none" stroke="#000" stroke-width="1.0"/>
<circle cx="118.79" cy="291.23" r="1.4" fill="#6a6a6a" stroke="#000" stroke-width="1.0"/>
<circle cx="123.70" cy="291.23" r="1.4" fill="none" stroke="#000" stroke-width="1.0"/>
<circle cx="128.61" cy="291.23" r="1.4" fill="#6a6a6a" stroke="#000" stroke-width="1.0"/>
<circle cx="138.43" cy="291.23" r="1.4" fill="none" stroke="#000" stroke-width="1.0"/>
<circle cx="143.34" cy="291.23" r="1.4" fill="none" stroke="#000" stroke-width="1.0"/>
<circle cx="148.25" cy="291.23" r="1.4" fill="none" stroke="#000" stroke-width="1.0"/>
<circle cx="153.16" cy="291.23" r="1.4" fill="none" stroke="#000" stroke-width="1.0"/>
<circle cx="104.06" cy="287.42" r="1.4" fill="none" stroke="#000" stroke-width="1.0"/>
<circle cx="106.51" cy="287.42" r="1.4" fill="none" stroke="#000" stroke-width="1.0"/>
<circle cx="111.42" cy="287.42" r="1.4" fill="none" stroke="#000" stroke-width="1.0"/>
<circle cx="116.33" cy="287.42" r="1.4" fill="none" stroke="#000" stroke-width="1.0"/>
<circle cx="121.24" cy="287.42" r="1.4" fill="none" stroke="#000" stroke-width="1.0"/>
<circle cx="126.15" cy="287.42" r="1.4" fill="#6a6a6a" stroke="#000" stroke-width="1.0"/>
<circle cx="131.06" cy="287.42" r="1.4" fill="none" stroke="#000" stroke-width="1.0"/>
<circle cx="135.97" cy="287.42" r="1.4" fill="none" stroke="#000" stroke-width="1.0"/>
<circle cx="140.88" cy="287.42" r="1.4" fill="none" stroke="#000" stroke-width="1.0"/>
<circle cx="145.79" cy="287.42" r="1.4" fill="#6a6a6a" stroke="#000" stroke-width="1.0"/>
<circle cx="150.70" cy="287.42" r="1.4" fill="none" stroke="#000" stroke-width="1.0"/>
<circle cx="153.16" cy="287.42" r="1.4" fill="none" stroke="#000" stroke-width="1.0"/>
<circle cx="79.50" cy="325.52" r="1.4" fill="none" stroke="#000" stroke-width="1.0"/>
<circle cx="248.90" cy="348.38" r="1.4" fill="none" stroke="#000" stroke-width="1.0"/>
<circle cx="253.81" cy="348.38" r="1.4" fill="none" stroke="#000" stroke-width="1.0"/>
<circle cx="236.62" cy="336.95" r="1.4" fill="none" stroke="#000" stroke-width="1.0"/>
<circle cx="239.08" cy="340.76" r="1.4" fill="none" stroke="#000" stroke-width="1.0"/>
<circle cx="75.21" cy="352.19" r="1.4" fill="none" stroke="#000" stroke-width="1.0"/>
<circle cx="77.66" cy="352.19" r="1.4" fill="none" stroke="#000" stroke-width="1.0"/>
<circle cx="80.12" cy="352.19" r="1.4" fill="none" stroke="#000" stroke-width="1.0"/>
<circle cx="82.57" cy="352.19" r="1.4" fill="none" stroke="#000" stroke-width="1.0"/>
<circle cx="85.03" cy="352.19" r="1.4" fill="#6a6a6a" stroke="#000" stroke-width="1.0"/>
<circle cx="89.94" cy="352.19" r="1.4" fill="#6a6a6a" stroke="#000" stroke-width="1.0"/>
<circle cx="94.85" cy="352.19" r="1.4" fill="none" stroke="#000" stroke-width="1.0"/>
<circle cx="104.67" cy="352.19" r="1.4" fill="none" stroke="#000" stroke-width="1.0"/>
<circle cx="75.21" cy="348.38" r="1.4" fill="none" stroke="#000" stroke-width="1.0"/>
<circle cx="77.66" cy="348.38" r="1.4" fill="none" stroke="#000" stroke-width="1.0"/>
<circle cx="80.12" cy="348.38" r="1.4" fill="#6a6a6a" stroke="#000" stroke-width="1.0"/>
<circle cx="82.57" cy="348.38" r="1.4" fill="none" stroke="#000" stroke-width="1.0"/>
<circle cx="85.03" cy="348.38" r="1.4" fill="#6a6a6a" stroke="#000" stroke-width="1.0"/>
<circle cx="89.94" cy="348.38" r="1.4" fill="none" stroke="#000" stroke-width="1.0"/>
<circle cx="92.39" cy="348.38" r="1.4" fill="none" stroke="#000" stroke-width="1.0"/>
<circle cx="99.76" cy="348.38" r="1.4" fill="#6a6a6a" stroke="#000" stroke-width="1.0"/>
<circle cx="102.21" cy="348.38" r="1.4" fill="none" stroke="#000" stroke-width="1.0"/>
<circle cx="109.58" cy="348.38" r="1.4" fill="none" stroke="#000" stroke-width="1.0"/>
<circle cx="116.94" cy="348.38" r="1.4" fill="none" stroke="#000" stroke-width="1.0"/>
<circle cx="76.44" cy="344.57" r="1.4" fill="#6a6a6a" stroke="#000" stroke-width="1.0"/>
<circle cx="78.89" cy="344.57" r="1.4" fill="none" stroke="#000" stroke-width="1.0"/>
<circle cx="83.80" cy="344.57" r="1.4" fill="#6a6a6a" stroke="#000" stroke-width="1.0"/>
<circle cx="86.26" cy="344.57" r="1.4" fill="#6a6a6a" stroke="#000" stroke-width="1.0"/>
<circle cx="94.85" cy="344.57" r="1.4" fill="#6a6a6a" stroke="#000" stroke-width="1.0"/>
<circle cx="97.30" cy="344.57" r="1.4" fill="#6a6a6a" stroke="#000" stroke-width="1.0"/>
<circle cx="104.67" cy="344.57" r="1.4" fill="none" stroke="#000" stroke-width="1.0"/>
<circle cx="107.12" cy="344.57" r="1.4" fill="#6a6a6a" stroke="#000" stroke-width="1.0"/>
<circle cx="85.03" cy="340.76" r="1.4" fill="#6a6a6a" stroke="#000" stroke-width="1.0"/>
<circle cx="121.85" cy="340.76" r="1.4" fill="#6a6a6a" stroke="#000" stroke-width="1.0"/>
<circle cx="124.31" cy="340.76" r="1.4" fill="#6a6a6a" stroke="#000" stroke-width="1.0"/>
<circle cx="126.76" cy="340.76" r="1.4" fill="none" stroke="#000" stroke-width="1.0"/>
<circle cx="131.67" cy="340.76" r="1.4" fill="none" stroke="#000" stroke-width="1.0"/>
<circle cx="134.13" cy="340.76" r="1.4" fill="#6a6a6a" stroke="#000" stroke-width="1.0"/>
<circle cx="139.04" cy="340.76" r="1.4" fill="none" stroke="#000" stroke-width="1.0"/>
<circle cx="91.17" cy="336.95" r="1.4" fill="none" stroke="#000" stroke-width="1.0"/>
<circle cx="110.81" cy="336.95" r="1.4" fill="#6a6a6a" stroke="#000" stroke-width="1.0"/>
<circle cx="150.09" cy="336.95" r="1.4" fill="#6a6a6a" stroke="#000" stroke-width="1.0"/>
<circle cx="87.48" cy="333.14" r="1.4" fill="none" stroke="#000" stroke-width="1.0"/>
<circle cx="97.30" cy="333.14" r="1.4" fill="none" stroke="#000" stroke-width="1.0"/>
<circle cx="99.76" cy="333.14" r="1.4" fill="none" stroke="#000" stroke-width="1.0"/>
<circle cx="102.21" cy="333.14" r="1.4" fill="none" stroke="#000" stroke-width="1.0"/>
<circle cx="107.12" cy="333.14" r="1.4" fill="none" stroke="#000" stroke-width="1.0"/>
<circle cx="112.03" cy="333.14" r="1.4" fill="none" stroke="#000" stroke-width="1.0"/>
<circle cx="85.03" cy="329.33" r="1.4" fill="none" stroke="#000" stroke-width="1.0"/>
<circle cx="87.48" cy="329.33" r="1.4" fill="none" stroke="#000" stroke-width="1.0"/>
<circle cx="92.39" cy="329.33" r="1.4" fill="#6a6a6a" stroke="#000" stroke-width="1.0"/>
<circle cx="97.30" cy="329.33" r="1.4" fill="none" stroke="#000" stroke-width="1.0"/>
<circle cx="99.76" cy="329.33" r="1.4" fill="none" stroke="#000" stroke-width="1.0"/>
<circle cx="104.67" cy="329.33" r="1.4" fill="none" stroke="#000" stroke-width="1.0"/>
<circle cx="109.58" cy="329.33" r="1.4" fill="none" stroke="#000" stroke-width="1.0"/>
<circle cx="112.03" cy="329.33" r="1.4" fill="none" stroke="#000" stroke-width="1.0"/>
<circle cx="114.49" cy="329.33" r="1.4" fill="none" stroke="#000" stroke-width="1.0"/>
<circle cx="87.48" cy="325.52" r="1.4" fill="#6a6a6a" stroke="#000" stroke-width="1.0"/>
<circle cx="89.94" cy="325.52" r="1.4" fill="#6a6a6a" stroke="#000" stroke-width="1.0"/>
<circle cx="92.39" cy="325.52" r="1.4" fill="none" stroke="#000" stroke-width="1.0"/>
<circle cx="94.85" cy="325.52" r="1.4" fill="none" stroke="#000" stroke-width="1.0"/>
<circle cx="97.30" cy="325.52" r="1.4" fill="#6a6a6a" stroke="#000" stroke-width="1.0"/>
<circle cx="99.76" cy="325.52" r="1.4" fill="none" stroke="#000" stroke-width="1.0"/>
<circle cx="104.67" cy="325.52" r="1.4" fill="#6a6a6a" stroke="#000" stroke-width="1.0"/>
<circle cx="109.58" cy="325.52" r="1.4" fill="#6a6a6a" stroke="#000" stroke-width="1.0"/>
<circle cx="112.03" cy="325.52" r="1.4" fill="none" stroke="#000" stroke-width="1.0"/>
<circle cx="89.94" cy="321.71" r="1.4" fill="none" stroke="#000" stroke-width="1.0"/>
<circle cx="92.39" cy="321.71" r="1.4" fill="none" stroke="#000" stroke-width="1.0"/>
<circle cx="94.85" cy="321.71" r="1.4" fill="none" stroke="#000" stroke-width="1.0"/>
<circle cx="102.21" cy="321.71" r="1.4" fill="#6a6a6a" stroke="#000" stroke-width="1.0"/>
<circle cx="104.67" cy="321.71" r="1.4" fill="#6a6a6a" stroke="#000" stroke-width="1.0"/>
<circle cx="109.58" cy="321.71" r="1.4" fill="none" stroke="#000" stroke-width="1.0"/>
<circle cx="112.03" cy="321.71" r="1.4" fill="#6a6a6a" stroke="#000" stroke-width="1.0"/>
<circle cx="114.49" cy="321.71" r="1.4" fill="none" stroke="#000" stroke-width="1.0"/>
<circle cx="116.94" cy="321.71" r="1.4" fill="#6a6a6a" stroke="#000" stroke-width="1.0"/>
<circle cx="121.85" cy="321.71" r="1.4" fill="#6a6a6a" stroke="#000" stroke-width="1.0"/>
<circle cx="124.31" cy="321.71" r="1.4" fill="none" stroke="#000" stroke-width="1.0"/>
<circle cx="126.76" cy="321.71" r="1.4" fill="none" stroke="#000" stroke-width="1.0"/>
<circle cx="131.67" cy="321.71" r="1.4" fill="none" stroke="#000" stroke-width="1.0"/>
<circle cx="136.58" cy="321.71" r="1.4" fill="none" stroke="#000" stroke-width="1.0"/>
<circle cx="92.39" cy="317.90" r="1.4" fill="none" stroke="#000" stroke-width="1.0"/>
<circle cx="97.30" cy="317.90" r="1.4" fill="#6a6a6a" stroke="#000" stroke-width="1.0"/>
<circle cx="104.67" cy="317.90" r="1.4" fill="#6a6a6a" stroke="#000" stroke-width="1.0"/>
<circle cx="107.12" cy="317.90" r="1.4" fill="#6a6a6a" stroke="#000" stroke-width="1.0"/>
<circle cx="112.03" cy="317.90" r="1.4" fill="#6a6a6a" stroke="#000" stroke-width="1.0"/>
<circle cx="119.40" cy="317.90" r="1.4" fill="none" stroke="#000" stroke-width="1.0"/>
<circle cx="104.67" cy="314.09" r="1.4" fill="none" stroke="#000" stroke-width="1.0"/>
<circle cx="107.12" cy="314.09" r="1.4" fill="none" stroke="#000" stroke-width="1.0"/>
<circle cx="109.58" cy="314.09" r="1.4" fill="none" stroke="#000" stroke-width="1.0"/>
<circle cx="114.49" cy="314.09" r="1.4" fill="#6a6a6a" stroke="#000" stroke-width="1.0"/>
<circle cx="116.94" cy="314.09" r="1.4" fill="none" stroke="#000" stroke-width="1.0"/>
<circle cx="119.40" cy="314.09" r="1.4" fill="none" stroke="#000" stroke-width="1.0"/>
<circle cx="121.85" cy="314.09" r="1.4" fill="none" stroke="#000" stroke-width="1.0"/>
<circle cx="124.31" cy="314.09" r="1.4" fill="none" stroke="#000" stroke-width="1.0"/>
<circle cx="96.08" cy="310.28" r="1.4" fill="none" stroke="#000" stroke-width="1.0"/>
<circle cx="98.53" cy="310.28" r="1.4" fill="none" stroke="#000" stroke-width="1.0"/>
<circle cx="105.90" cy="310.28" r="1.4" fill="none" stroke="#000" stroke-width="1.0"/>
<circle cx="110.81" cy="310.28" r="1.4" fill="none" stroke="#000" stroke-width="1.0"/>
<circle cx="115.72" cy="310.28" r="1.4" fill="none" stroke="#000" stroke-width="1.0"/>
<circle cx="123.08" cy="310.28" r="1.4" fill="none" stroke="#000" stroke-width="1.0"/>
<circle cx="125.54" cy="310.28" r="1.4" fill="none" stroke="#000" stroke-width="1.0"/>
<circle cx="104.67" cy="306.47" r="1.4" fill="none" stroke="#000" stroke-width="1.0"/>
<circle cx="109.58" cy="306.47" r="1.4" fill="none" stroke="#000" stroke-width="1.0"/>
<circle cx="112.03" cy="306.47" r="1.4" fill="none" stroke="#000" stroke-width="1.0"/>
<circle cx="104.67" cy="302.66" r="1.4" fill="none" stroke="#000" stroke-width="1.0"/>
<circle cx="107.12" cy="302.66" r="1.4" fill="none" stroke="#000" stroke-width="1.0"/>
<circle cx="109.58" cy="302.66" r="1.4" fill="none" stroke="#000" stroke-width="1.0"/>
</svg></body></html>
